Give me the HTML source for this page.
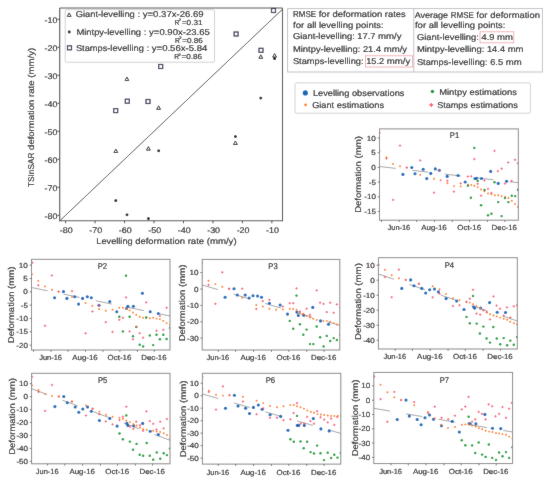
<!DOCTYPE html>
<html><head><meta charset="utf-8"><title>figure</title>
<style>
html,body{margin:0;padding:0;background:#fff;width:550px;height:485px;overflow:hidden}
svg{display:block}
#w{width:550px;height:485px}
text{font-family:"Liberation Sans",sans-serif;text-rendering:geometricPrecision;stroke:#111;stroke-width:0.15px;paint-order:stroke}
</style></head>
<body>
<div id="w">
<svg width="550" height="485" viewBox="0 0 550 485">
<filter id="soft" x="0" y="0" width="550" height="485" filterUnits="userSpaceOnUse"><feConvolveMatrix order="3" kernelMatrix="1 2 1 2 36 2 1 2 1" divisor="48" edgeMode="duplicate"/></filter>
<g filter="url(#soft)">
<rect width="550" height="485" fill="#fff"/>
<line x1="59.70" y1="220.91" x2="282.50" y2="9.22" stroke="#222" stroke-width="0.8"/>
<line x1="59.70" y1="8.00" x2="59.70" y2="221.30" stroke="#444" stroke-width="1.1"/>
<line x1="282.50" y1="8.00" x2="282.50" y2="221.30" stroke="#444" stroke-width="1.1"/>
<line x1="59.70" y1="8.00" x2="282.50" y2="8.00" stroke="#555" stroke-width="1.0"/>
<line x1="59.70" y1="220.80" x2="282.50" y2="220.80" stroke="#555" stroke-width="1.1"/>
<line x1="57.50" y1="19.30" x2="59.70" y2="19.30" stroke="#333" stroke-width="0.9"/>
<text x="44.50" y="22.75" font-size="8.26" textLength="12.90" lengthAdjust="spacingAndGlyphs" fill="#111">-10</text>
<line x1="57.50" y1="47.30" x2="59.70" y2="47.30" stroke="#333" stroke-width="0.9"/>
<text x="44.50" y="50.75" font-size="8.26" textLength="12.90" lengthAdjust="spacingAndGlyphs" fill="#111">-20</text>
<line x1="57.50" y1="75.30" x2="59.70" y2="75.30" stroke="#333" stroke-width="0.9"/>
<text x="44.50" y="78.75" font-size="8.26" textLength="12.90" lengthAdjust="spacingAndGlyphs" fill="#111">-30</text>
<line x1="57.50" y1="103.30" x2="59.70" y2="103.30" stroke="#333" stroke-width="0.9"/>
<text x="44.50" y="106.75" font-size="8.26" textLength="12.90" lengthAdjust="spacingAndGlyphs" fill="#111">-40</text>
<line x1="57.50" y1="131.30" x2="59.70" y2="131.30" stroke="#333" stroke-width="0.9"/>
<text x="44.50" y="134.75" font-size="8.26" textLength="12.90" lengthAdjust="spacingAndGlyphs" fill="#111">-50</text>
<line x1="57.50" y1="159.30" x2="59.70" y2="159.30" stroke="#333" stroke-width="0.9"/>
<text x="44.50" y="162.75" font-size="8.26" textLength="12.90" lengthAdjust="spacingAndGlyphs" fill="#111">-60</text>
<line x1="57.50" y1="187.30" x2="59.70" y2="187.30" stroke="#333" stroke-width="0.9"/>
<text x="44.50" y="190.75" font-size="8.26" textLength="12.90" lengthAdjust="spacingAndGlyphs" fill="#111">-70</text>
<line x1="57.50" y1="215.30" x2="59.70" y2="215.30" stroke="#333" stroke-width="0.9"/>
<text x="44.50" y="218.75" font-size="8.26" textLength="12.90" lengthAdjust="spacingAndGlyphs" fill="#111">-80</text>
<line x1="65.60" y1="220.80" x2="65.60" y2="223.30" stroke="#333" stroke-width="0.9"/>
<text x="59.85" y="232.80" font-size="8.26" textLength="12.90" lengthAdjust="spacingAndGlyphs" fill="#111">-80</text>
<line x1="95.07" y1="220.80" x2="95.07" y2="223.30" stroke="#333" stroke-width="0.9"/>
<text x="89.32" y="232.80" font-size="8.26" textLength="12.90" lengthAdjust="spacingAndGlyphs" fill="#111">-70</text>
<line x1="124.54" y1="220.80" x2="124.54" y2="223.30" stroke="#333" stroke-width="0.9"/>
<text x="118.79" y="232.80" font-size="8.26" textLength="12.90" lengthAdjust="spacingAndGlyphs" fill="#111">-60</text>
<line x1="154.01" y1="220.80" x2="154.01" y2="223.30" stroke="#333" stroke-width="0.9"/>
<text x="148.26" y="232.80" font-size="8.26" textLength="12.90" lengthAdjust="spacingAndGlyphs" fill="#111">-50</text>
<line x1="183.48" y1="220.80" x2="183.48" y2="223.30" stroke="#333" stroke-width="0.9"/>
<text x="177.73" y="232.80" font-size="8.26" textLength="12.90" lengthAdjust="spacingAndGlyphs" fill="#111">-40</text>
<line x1="212.95" y1="220.80" x2="212.95" y2="223.30" stroke="#333" stroke-width="0.9"/>
<text x="207.20" y="232.80" font-size="8.26" textLength="12.90" lengthAdjust="spacingAndGlyphs" fill="#111">-30</text>
<line x1="242.42" y1="220.80" x2="242.42" y2="223.30" stroke="#333" stroke-width="0.9"/>
<text x="236.67" y="232.80" font-size="8.26" textLength="12.90" lengthAdjust="spacingAndGlyphs" fill="#111">-20</text>
<line x1="271.89" y1="220.80" x2="271.89" y2="223.30" stroke="#333" stroke-width="0.9"/>
<text x="266.14" y="232.80" font-size="8.26" textLength="12.90" lengthAdjust="spacingAndGlyphs" fill="#111">-10</text>
<text x="96.30" y="244.00" font-size="8.52" textLength="36.38" lengthAdjust="spacingAndGlyphs" fill="#111">Levelling</text><text x="135.27" y="244.00" font-size="8.52" textLength="49.80" lengthAdjust="spacingAndGlyphs" fill="#111">deformation</text><text x="187.66" y="244.00" font-size="8.52" textLength="16.56" lengthAdjust="spacingAndGlyphs" fill="#111">rate</text><text x="206.80" y="244.00" font-size="8.52" textLength="29.81" lengthAdjust="spacingAndGlyphs" fill="#111">(mm/y)</text>
<g transform="rotate(-90 34.00 117.40)"><text x="-35.66" y="117.40" font-size="8.52" textLength="34.56" lengthAdjust="spacingAndGlyphs" fill="#111">TSInSAR</text><text x="1.51" y="117.40" font-size="8.52" textLength="50.19" lengthAdjust="spacingAndGlyphs" fill="#111">deformation</text><text x="54.32" y="117.40" font-size="8.52" textLength="16.69" lengthAdjust="spacingAndGlyphs" fill="#111">rate</text><text x="73.61" y="117.40" font-size="8.52" textLength="30.05" lengthAdjust="spacingAndGlyphs" fill="#111">(mm/y)</text></g>
<rect x="65.2" y="9.7" width="149.3" height="52.5" rx="1.2" fill="#fff" fill-opacity="0.85" stroke="#cccccc" stroke-width="0.9"/>
<path d="M126.90,77.00 L128.80,80.52 L125.00,80.52 Z" fill="#fff" stroke="#222" stroke-width="1.0"/>
<path d="M158.60,105.80 L160.50,109.31 L156.70,109.31 Z" fill="#fff" stroke="#222" stroke-width="1.0"/>
<path d="M115.80,149.00 L117.70,152.52 L113.90,152.52 Z" fill="#fff" stroke="#222" stroke-width="1.0"/>
<path d="M148.40,146.60 L150.30,150.12 L146.50,150.12 Z" fill="#fff" stroke="#222" stroke-width="1.0"/>
<path d="M260.80,54.80 L262.70,58.32 L258.90,58.32 Z" fill="#fff" stroke="#222" stroke-width="1.0"/>
<path d="M274.60,53.60 L276.50,57.12 L272.70,57.12 Z" fill="#fff" stroke="#222" stroke-width="1.0"/>
<path d="M235.40,141.00 L237.30,144.52 L233.50,144.52 Z" fill="#fff" stroke="#222" stroke-width="1.0"/>
<circle cx="158.70" cy="150.80" r="1.4" fill="#000"/>
<circle cx="115.80" cy="200.70" r="1.4" fill="#000"/>
<circle cx="127.00" cy="214.80" r="1.4" fill="#000"/>
<circle cx="148.40" cy="218.60" r="1.4" fill="#000"/>
<circle cx="274.60" cy="58.70" r="1.4" fill="#000"/>
<circle cx="260.80" cy="98.10" r="1.4" fill="#000"/>
<circle cx="235.40" cy="136.60" r="1.4" fill="#000"/>
<rect x="158.70" y="64.50" width="4.00" height="4.00" fill="none" stroke="#2a2e4e" stroke-width="1.2"/>
<rect x="125.30" y="99.20" width="4.00" height="4.00" fill="none" stroke="#2a2e4e" stroke-width="1.2"/>
<rect x="146.00" y="99.50" width="4.00" height="4.00" fill="none" stroke="#2a2e4e" stroke-width="1.2"/>
<rect x="113.70" y="108.60" width="4.00" height="4.00" fill="none" stroke="#2a2e4e" stroke-width="1.2"/>
<rect x="271.50" y="8.50" width="4.00" height="4.00" fill="none" stroke="#2a2e4e" stroke-width="1.2"/>
<rect x="234.10" y="32.00" width="4.00" height="4.00" fill="none" stroke="#2a2e4e" stroke-width="1.2"/>
<rect x="259.00" y="48.30" width="4.00" height="4.00" fill="none" stroke="#2a2e4e" stroke-width="1.2"/>
<path d="M69.20,12.90 L71.10,16.41 L67.30,16.41 Z" fill="#fff" stroke="#222" stroke-width="1.0"/>
<circle cx="69.20" cy="32.00" r="1.4" fill="#000"/>
<rect x="67.50" y="45.80" width="4.00" height="4.00" fill="none" stroke="#2a2e4e" stroke-width="1.2"/>
<text x="75.70" y="16.90" font-size="8.52" textLength="59.12" lengthAdjust="spacingAndGlyphs" fill="#111">Giant-levelling</text><text x="137.41" y="16.90" font-size="8.52" textLength="2.75" lengthAdjust="spacingAndGlyphs" fill="#111">:</text><text x="142.75" y="16.90" font-size="8.52" textLength="60.90" lengthAdjust="spacingAndGlyphs" fill="#111">y=0.37x-26.69</text>
<text x="76.40" y="34.70" font-size="8.52" textLength="64.70" lengthAdjust="spacingAndGlyphs" fill="#111">Mintpy-levelling</text><text x="143.69" y="34.70" font-size="8.52" textLength="2.75" lengthAdjust="spacingAndGlyphs" fill="#111">:</text><text x="149.03" y="34.70" font-size="8.52" textLength="60.90" lengthAdjust="spacingAndGlyphs" fill="#111">y=0.90x-23.65</text>
<text x="75.90" y="51.00" font-size="8.52" textLength="67.91" lengthAdjust="spacingAndGlyphs" fill="#111">Stamps-levelling</text><text x="146.40" y="51.00" font-size="8.52" textLength="2.75" lengthAdjust="spacingAndGlyphs" fill="#111">:</text><text x="151.74" y="51.00" font-size="8.52" textLength="55.71" lengthAdjust="spacingAndGlyphs" fill="#111">y=0.56x-5.84</text>
<text x="174.60" y="25.00" font-size="7.31" textLength="4.86" lengthAdjust="spacingAndGlyphs" fill="#111">R</text>
<text x="178.86" y="21.40" font-size="3.76" textLength="2.29" lengthAdjust="spacingAndGlyphs" fill="#111">2</text>
<text x="181.86" y="25.00" font-size="7.31" textLength="20.59" lengthAdjust="spacingAndGlyphs" fill="#111">=0.31</text>
<text x="175.00" y="42.60" font-size="7.31" textLength="4.86" lengthAdjust="spacingAndGlyphs" fill="#111">R</text>
<text x="179.26" y="39.00" font-size="3.76" textLength="2.29" lengthAdjust="spacingAndGlyphs" fill="#111">2</text>
<text x="182.26" y="42.60" font-size="7.31" textLength="20.59" lengthAdjust="spacingAndGlyphs" fill="#111">=0.86</text>
<text x="174.30" y="59.20" font-size="7.31" textLength="4.86" lengthAdjust="spacingAndGlyphs" fill="#111">R</text>
<text x="178.56" y="55.60" font-size="3.76" textLength="2.29" lengthAdjust="spacingAndGlyphs" fill="#111">2</text>
<text x="181.56" y="59.20" font-size="7.31" textLength="20.59" lengthAdjust="spacingAndGlyphs" fill="#111">=0.86</text>
<rect x="287.6" y="8.6" width="254.8" height="63.4" fill="#fff" stroke="#bfb8c4" stroke-width="0.9"/>
<line x1="413.80" y1="8.60" x2="413.80" y2="72.00" stroke="#bfb8c4" stroke-width="0.9"/>
<text x="293.10" y="17.40" font-size="8.52" textLength="23.02" lengthAdjust="spacingAndGlyphs" fill="#111">RMSE</text><text x="318.71" y="17.40" font-size="8.52" textLength="11.21" lengthAdjust="spacingAndGlyphs" fill="#111">for</text><text x="332.51" y="17.40" font-size="8.52" textLength="49.80" lengthAdjust="spacingAndGlyphs" fill="#111">deformation</text><text x="384.89" y="17.40" font-size="8.52" textLength="20.80" lengthAdjust="spacingAndGlyphs" fill="#111">rates</text>
<text x="293.10" y="28.10" font-size="8.52" textLength="11.21" lengthAdjust="spacingAndGlyphs" fill="#111">for</text><text x="306.90" y="28.10" font-size="8.52" textLength="9.52" lengthAdjust="spacingAndGlyphs" fill="#111">all</text><text x="319.01" y="28.10" font-size="8.52" textLength="34.25" lengthAdjust="spacingAndGlyphs" fill="#111">levelling</text><text x="355.85" y="28.10" font-size="8.52" textLength="27.78" lengthAdjust="spacingAndGlyphs" fill="#111">points:</text>
<text x="292.90" y="39.30" font-size="8.52" textLength="61.87" lengthAdjust="spacingAndGlyphs" fill="#111">Giant-levelling:</text><text x="357.36" y="39.30" font-size="8.52" textLength="18.15" lengthAdjust="spacingAndGlyphs" fill="#111">17.7</text><text x="378.10" y="39.30" font-size="8.52" textLength="23.45" lengthAdjust="spacingAndGlyphs" fill="#111">mm/y</text>
<text x="292.90" y="51.60" font-size="8.52" textLength="67.45" lengthAdjust="spacingAndGlyphs" fill="#111">Mintpy-levelling:</text><text x="362.94" y="51.60" font-size="8.52" textLength="18.15" lengthAdjust="spacingAndGlyphs" fill="#111">21.4</text><text x="383.67" y="51.60" font-size="8.52" textLength="23.45" lengthAdjust="spacingAndGlyphs" fill="#111">mm/y</text>
<text x="292.90" y="63.80" font-size="8.52" textLength="70.66" lengthAdjust="spacingAndGlyphs" fill="#111">Stamps-levelling:</text><text x="366.15" y="63.80" font-size="8.52" textLength="18.15" lengthAdjust="spacingAndGlyphs" fill="#111">15.2</text><text x="386.89" y="63.80" font-size="8.52" textLength="23.45" lengthAdjust="spacingAndGlyphs" fill="#111">mm/y</text>
<rect x="365.5" y="55.8" width="47.1" height="11.2" fill="none" stroke="#f2a0a8" stroke-width="0.8"/>
<text x="414.70" y="17.80" font-size="8.52" textLength="33.47" lengthAdjust="spacingAndGlyphs" fill="#111">Average</text><text x="450.76" y="17.80" font-size="8.52" textLength="23.02" lengthAdjust="spacingAndGlyphs" fill="#111">RMSE</text><text x="476.37" y="17.80" font-size="8.52" textLength="11.21" lengthAdjust="spacingAndGlyphs" fill="#111">for</text><text x="490.16" y="17.80" font-size="8.52" textLength="49.80" lengthAdjust="spacingAndGlyphs" fill="#111">deformation</text>
<text x="414.90" y="28.10" font-size="8.52" textLength="11.21" lengthAdjust="spacingAndGlyphs" fill="#111">for</text><text x="428.70" y="28.10" font-size="8.52" textLength="9.52" lengthAdjust="spacingAndGlyphs" fill="#111">all</text><text x="440.81" y="28.10" font-size="8.52" textLength="34.25" lengthAdjust="spacingAndGlyphs" fill="#111">levelling</text><text x="477.65" y="28.10" font-size="8.52" textLength="27.78" lengthAdjust="spacingAndGlyphs" fill="#111">points:</text>
<text x="417.00" y="40.40" font-size="8.52" textLength="61.87" lengthAdjust="spacingAndGlyphs" fill="#111">Giant-levelling:</text><text x="481.46" y="40.40" font-size="8.52" textLength="12.96" lengthAdjust="spacingAndGlyphs" fill="#111">4.9</text><text x="497.01" y="40.40" font-size="8.52" textLength="15.88" lengthAdjust="spacingAndGlyphs" fill="#111">mm</text>
<text x="416.90" y="52.40" font-size="8.52" textLength="67.45" lengthAdjust="spacingAndGlyphs" fill="#111">Mintpy-levelling:</text><text x="486.94" y="52.40" font-size="8.52" textLength="18.15" lengthAdjust="spacingAndGlyphs" fill="#111">14.4</text><text x="507.67" y="52.40" font-size="8.52" textLength="15.88" lengthAdjust="spacingAndGlyphs" fill="#111">mm</text>
<text x="416.90" y="64.70" font-size="8.52" textLength="70.66" lengthAdjust="spacingAndGlyphs" fill="#111">Stamps-levelling:</text><text x="490.15" y="64.70" font-size="8.52" textLength="12.96" lengthAdjust="spacingAndGlyphs" fill="#111">6.5</text><text x="505.70" y="64.70" font-size="8.52" textLength="15.88" lengthAdjust="spacingAndGlyphs" fill="#111">mm</text>
<rect x="480.0" y="31.8" width="33.8" height="11.0" fill="none" stroke="#f2a0a8" stroke-width="0.8"/>
<rect x="295.0" y="82.9" width="235.4" height="30.3" rx="1.5" fill="#fff" stroke="#cccccc" stroke-width="0.9"/>
<circle cx="305.30" cy="92.90" r="2.6" fill="#0a67b9"/>
<circle cx="305.60" cy="104.80" r="1.35" fill="#ff7505"/>
<circle cx="432.40" cy="91.50" r="1.75" fill="#009a2a"/>
<path d="M429.3,104.9 H433.3 M431.3,102.9 V106.9" stroke="#ff4a4a" stroke-width="1.1"/>
<text x="313.00" y="95.50" font-size="8.52" textLength="36.38" lengthAdjust="spacingAndGlyphs" fill="#111">Levelling</text><text x="351.97" y="95.50" font-size="8.52" textLength="52.45" lengthAdjust="spacingAndGlyphs" fill="#111">observations</text>
<text x="312.20" y="107.80" font-size="8.52" textLength="21.94" lengthAdjust="spacingAndGlyphs" fill="#111">Giant</text><text x="336.73" y="107.80" font-size="8.52" textLength="47.51" lengthAdjust="spacingAndGlyphs" fill="#111">estimations</text>
<text x="439.20" y="95.00" font-size="8.52" textLength="27.65" lengthAdjust="spacingAndGlyphs" fill="#111">Mintpy</text><text x="469.44" y="95.00" font-size="8.52" textLength="47.51" lengthAdjust="spacingAndGlyphs" fill="#111">estimations</text>
<text x="437.20" y="108.00" font-size="8.52" textLength="30.72" lengthAdjust="spacingAndGlyphs" fill="#111">Stamps</text><text x="470.51" y="108.00" font-size="8.52" textLength="47.51" lengthAdjust="spacingAndGlyphs" fill="#111">estimations</text>
<clipPath id="cP1"><rect x="379.5" y="128.9" width="138.80" height="91.30"/></clipPath>
<line x1="379.5" y1="166.5" x2="518.3" y2="182.7" stroke="#a0a0a0" stroke-width="0.95" stroke-dasharray="16.4 16.4"/>
<g clip-path="url(#cP1)">
<circle cx="402.9" cy="174.4" r="1.55" fill="#0a67b9"/>
<circle cx="411.8" cy="167.5" r="1.55" fill="#0a67b9"/>
<circle cx="415" cy="173.8" r="1.55" fill="#0a67b9"/>
<circle cx="423.2" cy="169.2" r="1.55" fill="#0a67b9"/>
<circle cx="426.8" cy="178.6" r="1.55" fill="#0a67b9"/>
<circle cx="430.8" cy="173.4" r="1.55" fill="#0a67b9"/>
<circle cx="435.3" cy="168.9" r="1.55" fill="#0a67b9"/>
<circle cx="439.3" cy="170.2" r="1.55" fill="#0a67b9"/>
<circle cx="447.2" cy="176.4" r="1.55" fill="#0a67b9"/>
<circle cx="458" cy="175.5" r="1.55" fill="#0a67b9"/>
<circle cx="465.2" cy="182" r="1.55" fill="#0a67b9"/>
<circle cx="475" cy="178.6" r="1.55" fill="#0a67b9"/>
<circle cx="476.5" cy="178.2" r="1.55" fill="#0a67b9"/>
<circle cx="481.5" cy="178.5" r="1.55" fill="#0a67b9"/>
<circle cx="490.7" cy="171.4" r="1.55" fill="#0a67b9"/>
<circle cx="498.2" cy="183.4" r="1.55" fill="#0a67b9"/>
<circle cx="506.6" cy="181.2" r="1.55" fill="#0a67b9"/>
<circle cx="379.6" cy="150.9" r="0.95" fill="#ff7505"/>
<circle cx="386.5" cy="157.2" r="0.95" fill="#ff7505"/>
<circle cx="393.1" cy="164" r="0.95" fill="#ff7505"/>
<circle cx="400" cy="166.3" r="0.95" fill="#ff7505"/>
<circle cx="406.8" cy="167.6" r="0.95" fill="#ff7505"/>
<circle cx="420.2" cy="174.7" r="0.95" fill="#ff7505"/>
<circle cx="434" cy="178.7" r="0.95" fill="#ff7505"/>
<circle cx="440.6" cy="180.3" r="0.95" fill="#ff7505"/>
<circle cx="447.4" cy="183.2" r="0.95" fill="#ff7505"/>
<circle cx="453.9" cy="186.1" r="0.95" fill="#ff7505"/>
<circle cx="460.7" cy="186.4" r="0.95" fill="#ff7505"/>
<circle cx="467.9" cy="184.8" r="0.95" fill="#ff7505"/>
<circle cx="471.2" cy="185" r="0.95" fill="#ff7505"/>
<circle cx="474.3" cy="185.7" r="0.95" fill="#ff7505"/>
<circle cx="477.7" cy="187.1" r="0.95" fill="#ff7505"/>
<circle cx="481.1" cy="189.5" r="0.95" fill="#ff7505"/>
<circle cx="484.5" cy="191.2" r="0.95" fill="#ff7505"/>
<circle cx="488" cy="193.4" r="0.95" fill="#ff7505"/>
<circle cx="491.4" cy="194.3" r="0.95" fill="#ff7505"/>
<circle cx="494.8" cy="195.3" r="0.95" fill="#ff7505"/>
<circle cx="498.2" cy="195.3" r="0.95" fill="#ff7505"/>
<circle cx="501.6" cy="196.1" r="0.95" fill="#ff7505"/>
<circle cx="505" cy="197" r="0.95" fill="#ff7505"/>
<circle cx="508.4" cy="198" r="0.95" fill="#ff7505"/>
<circle cx="511.8" cy="200.7" r="0.95" fill="#ff7505"/>
<circle cx="515.2" cy="203.9" r="0.95" fill="#ff7505"/>
<circle cx="518" cy="207" r="0.95" fill="#ff7505"/>
<circle cx="474.3" cy="147.9" r="1.2" fill="#009a2a"/>
<circle cx="467.9" cy="185.7" r="1.2" fill="#009a2a"/>
<circle cx="470.9" cy="197.7" r="1.2" fill="#009a2a"/>
<circle cx="477.7" cy="180.9" r="1.2" fill="#009a2a"/>
<circle cx="481.1" cy="205.2" r="1.2" fill="#009a2a"/>
<circle cx="484.5" cy="190" r="1.2" fill="#009a2a"/>
<circle cx="488" cy="215.2" r="1.2" fill="#009a2a"/>
<circle cx="491.4" cy="213.8" r="1.2" fill="#009a2a"/>
<circle cx="494.5" cy="182.3" r="1.2" fill="#009a2a"/>
<circle cx="498.2" cy="202.1" r="1.2" fill="#009a2a"/>
<circle cx="501.6" cy="216.1" r="1.2" fill="#009a2a"/>
<circle cx="505" cy="198" r="1.2" fill="#009a2a"/>
<circle cx="508.4" cy="202.1" r="1.2" fill="#009a2a"/>
<circle cx="511.8" cy="195.7" r="1.2" fill="#009a2a"/>
<circle cx="515.2" cy="196.1" r="1.2" fill="#009a2a"/>
<circle cx="518" cy="189.8" r="1.2" fill="#009a2a"/>
<path d="M378.40,132.80H380.80M379.60,131.60V134.00" stroke="#f24a66" stroke-width="0.78"/>
<path d="M385.30,158.50H387.70M386.50,157.30V159.70" stroke="#f24a66" stroke-width="0.78"/>
<path d="M391.90,199.90H394.30M393.10,198.70V201.10" stroke="#f24a66" stroke-width="0.78"/>
<path d="M398.80,145.60H401.20M400.00,144.40V146.80" stroke="#f24a66" stroke-width="0.78"/>
<path d="M405.60,167.60H408.00M406.80,166.40V168.80" stroke="#f24a66" stroke-width="0.78"/>
<path d="M419.00,160.40H421.40M420.20,159.20V161.60" stroke="#f24a66" stroke-width="0.78"/>
<path d="M432.80,192.70H435.20M434.00,191.50V193.90" stroke="#f24a66" stroke-width="0.78"/>
<path d="M438.10,170.20H440.50M439.30,169.00V171.40" stroke="#f24a66" stroke-width="0.78"/>
<path d="M446.20,180.70H448.60M447.40,179.50V181.90" stroke="#f24a66" stroke-width="0.78"/>
<path d="M452.70,191.60H455.10M453.90,190.40V192.80" stroke="#f24a66" stroke-width="0.78"/>
<path d="M459.50,183.40H461.90M460.70,182.20V184.60" stroke="#f24a66" stroke-width="0.78"/>
<path d="M466.70,176.60H469.10M467.90,175.40V177.80" stroke="#f24a66" stroke-width="0.78"/>
<path d="M470.00,176.30H472.40M471.20,175.10V177.50" stroke="#f24a66" stroke-width="0.78"/>
<path d="M473.10,159.10H475.50M474.30,157.90V160.30" stroke="#f24a66" stroke-width="0.78"/>
<path d="M476.50,183.80H478.90M477.70,182.60V185.00" stroke="#f24a66" stroke-width="0.78"/>
<path d="M479.90,195.70H482.30M481.10,194.50V196.90" stroke="#f24a66" stroke-width="0.78"/>
<path d="M483.30,180.50H485.70M484.50,179.30V181.70" stroke="#f24a66" stroke-width="0.78"/>
<path d="M486.80,188.90H489.20M488.00,187.70V190.10" stroke="#f24a66" stroke-width="0.78"/>
<path d="M490.20,193.00H492.60M491.40,191.80V194.20" stroke="#f24a66" stroke-width="0.78"/>
<path d="M493.30,150.90H495.70M494.50,149.70V152.10" stroke="#f24a66" stroke-width="0.78"/>
<path d="M496.70,171.10H499.10M497.90,169.90V172.30" stroke="#f24a66" stroke-width="0.78"/>
<path d="M500.40,168.60H502.80M501.60,167.40V169.80" stroke="#f24a66" stroke-width="0.78"/>
<path d="M503.80,183.60H506.20M505.00,182.40V184.80" stroke="#f24a66" stroke-width="0.78"/>
<path d="M507.00,162.50H509.40M508.20,161.30V163.70" stroke="#f24a66" stroke-width="0.78"/>
<path d="M510.40,180.90H512.80M511.60,179.70V182.10" stroke="#f24a66" stroke-width="0.78"/>
<path d="M513.80,159.80H516.20M515.00,158.60V161.00" stroke="#f24a66" stroke-width="0.78"/>
<path d="M516.80,163.20H519.20M518.00,162.00V164.40" stroke="#f24a66" stroke-width="0.78"/>
</g>
<rect x="379.5" y="128.9" width="138.80" height="91.30" fill="none" stroke="#808080" stroke-width="0.95"/>
<line x1="377.70" y1="137.96" x2="379.50" y2="137.96" stroke="#555" stroke-width="0.8"/>
<text x="366.87" y="140.51" font-size="7.42" textLength="9.03" lengthAdjust="spacingAndGlyphs" fill="#111">10</text>
<line x1="377.70" y1="152.68" x2="379.50" y2="152.68" stroke="#555" stroke-width="0.8"/>
<text x="371.38" y="155.23" font-size="7.42" textLength="4.52" lengthAdjust="spacingAndGlyphs" fill="#111">5</text>
<line x1="377.70" y1="167.40" x2="379.50" y2="167.40" stroke="#555" stroke-width="0.8"/>
<text x="371.38" y="169.95" font-size="7.42" textLength="4.52" lengthAdjust="spacingAndGlyphs" fill="#111">0</text>
<line x1="377.70" y1="182.12" x2="379.50" y2="182.12" stroke="#555" stroke-width="0.8"/>
<text x="368.82" y="184.67" font-size="7.42" textLength="7.08" lengthAdjust="spacingAndGlyphs" fill="#111">-5</text>
<line x1="377.70" y1="196.84" x2="379.50" y2="196.84" stroke="#555" stroke-width="0.8"/>
<text x="364.30" y="199.39" font-size="7.42" textLength="11.60" lengthAdjust="spacingAndGlyphs" fill="#111">-10</text>
<line x1="377.70" y1="211.56" x2="379.50" y2="211.56" stroke="#555" stroke-width="0.8"/>
<text x="364.30" y="214.11" font-size="7.42" textLength="11.60" lengthAdjust="spacingAndGlyphs" fill="#111">-15</text>
<line x1="381.44" y1="220.20" x2="381.44" y2="222.00" stroke="#555" stroke-width="0.8"/>
<line x1="399.30" y1="220.20" x2="399.30" y2="222.00" stroke="#555" stroke-width="0.8"/>
<text x="387.55" y="229.60" font-size="7.42" textLength="22.69" lengthAdjust="spacingAndGlyphs" fill="#111">Jun-16</text>
<line x1="416.58" y1="220.20" x2="416.58" y2="222.00" stroke="#555" stroke-width="0.8"/>
<line x1="434.44" y1="220.20" x2="434.44" y2="222.00" stroke="#555" stroke-width="0.8"/>
<text x="421.31" y="229.60" font-size="7.42" textLength="25.46" lengthAdjust="spacingAndGlyphs" fill="#111">Aug-16</text>
<line x1="452.29" y1="220.20" x2="452.29" y2="222.00" stroke="#555" stroke-width="0.8"/>
<line x1="469.57" y1="220.20" x2="469.57" y2="222.00" stroke="#555" stroke-width="0.8"/>
<text x="457.24" y="229.60" font-size="7.42" textLength="23.87" lengthAdjust="spacingAndGlyphs" fill="#111">Oct-16</text>
<line x1="487.43" y1="220.20" x2="487.43" y2="222.00" stroke="#555" stroke-width="0.8"/>
<line x1="504.71" y1="220.20" x2="504.71" y2="222.00" stroke="#555" stroke-width="0.8"/>
<text x="491.64" y="229.60" font-size="7.42" textLength="25.34" lengthAdjust="spacingAndGlyphs" fill="#111">Dec-16</text>
<text x="449.80" y="138.00" font-size="8.36" textLength="9.39" lengthAdjust="spacingAndGlyphs" fill="#111">P1</text>
<g transform="rotate(-90 360.70 174.40)"><text x="322.31" y="174.40" font-size="8.52" textLength="51.61" lengthAdjust="spacingAndGlyphs" fill="#111">Deformation</text><text x="376.54" y="174.40" font-size="8.52" textLength="22.55" lengthAdjust="spacingAndGlyphs" fill="#111">(mm)</text></g>
<clipPath id="cP2"><rect x="31.5" y="259.3" width="138.50" height="90.70"/></clipPath>
<line x1="31.5" y1="287.5" x2="170.0" y2="316.0" stroke="#a0a0a0" stroke-width="0.95" stroke-dasharray="16.4 16.4"/>
<g clip-path="url(#cP2)">
<circle cx="54.6" cy="297.7" r="1.55" fill="#0a67b9"/>
<circle cx="63.5" cy="291.6" r="1.55" fill="#0a67b9"/>
<circle cx="66.9" cy="298.4" r="1.55" fill="#0a67b9"/>
<circle cx="74.8" cy="296.8" r="1.55" fill="#0a67b9"/>
<circle cx="78.6" cy="304.1" r="1.55" fill="#0a67b9"/>
<circle cx="82.6" cy="298.4" r="1.55" fill="#0a67b9"/>
<circle cx="87.3" cy="296.8" r="1.55" fill="#0a67b9"/>
<circle cx="91.3" cy="297.7" r="1.55" fill="#0a67b9"/>
<circle cx="99" cy="305.3" r="1.55" fill="#0a67b9"/>
<circle cx="109.8" cy="301.5" r="1.55" fill="#0a67b9"/>
<circle cx="116.8" cy="311.8" r="1.55" fill="#0a67b9"/>
<circle cx="126.5" cy="308.5" r="1.55" fill="#0a67b9"/>
<circle cx="127.9" cy="306.3" r="1.55" fill="#0a67b9"/>
<circle cx="133.4" cy="306.3" r="1.55" fill="#0a67b9"/>
<circle cx="142.4" cy="293.3" r="1.55" fill="#0a67b9"/>
<circle cx="150.2" cy="311.8" r="1.55" fill="#0a67b9"/>
<circle cx="158.3" cy="313.5" r="1.55" fill="#0a67b9"/>
<circle cx="31.9" cy="274.2" r="0.95" fill="#ff7505"/>
<circle cx="38.3" cy="280.9" r="0.95" fill="#ff7505"/>
<circle cx="45" cy="286.5" r="0.95" fill="#ff7505"/>
<circle cx="51.9" cy="289.8" r="0.95" fill="#ff7505"/>
<circle cx="58.6" cy="291.6" r="0.95" fill="#ff7505"/>
<circle cx="72" cy="297.1" r="0.95" fill="#ff7505"/>
<circle cx="85.6" cy="303" r="0.95" fill="#ff7505"/>
<circle cx="92.4" cy="305.7" r="0.95" fill="#ff7505"/>
<circle cx="99.1" cy="309" r="0.95" fill="#ff7505"/>
<circle cx="105.8" cy="310.8" r="0.95" fill="#ff7505"/>
<circle cx="112.5" cy="309.8" r="0.95" fill="#ff7505"/>
<circle cx="119.3" cy="307.7" r="0.95" fill="#ff7505"/>
<circle cx="122.9" cy="307.7" r="0.95" fill="#ff7505"/>
<circle cx="126.5" cy="308.7" r="0.95" fill="#ff7505"/>
<circle cx="129.6" cy="310.4" r="0.95" fill="#ff7505"/>
<circle cx="133" cy="312.5" r="0.95" fill="#ff7505"/>
<circle cx="136.3" cy="314.8" r="0.95" fill="#ff7505"/>
<circle cx="139.7" cy="316.8" r="0.95" fill="#ff7505"/>
<circle cx="143.1" cy="317.8" r="0.95" fill="#ff7505"/>
<circle cx="146.2" cy="317.8" r="0.95" fill="#ff7505"/>
<circle cx="149.8" cy="318.2" r="0.95" fill="#ff7505"/>
<circle cx="153.2" cy="317.8" r="0.95" fill="#ff7505"/>
<circle cx="156.5" cy="318.6" r="0.95" fill="#ff7505"/>
<circle cx="159.9" cy="319.1" r="0.95" fill="#ff7505"/>
<circle cx="163.3" cy="320.9" r="0.95" fill="#ff7505"/>
<circle cx="166.6" cy="323.1" r="0.95" fill="#ff7505"/>
<circle cx="170" cy="324.6" r="0.95" fill="#ff7505"/>
<circle cx="119.3" cy="316.8" r="1.2" fill="#009a2a"/>
<circle cx="122.9" cy="331.4" r="1.2" fill="#009a2a"/>
<circle cx="126" cy="275.8" r="1.2" fill="#009a2a"/>
<circle cx="129.6" cy="316.8" r="1.2" fill="#009a2a"/>
<circle cx="133" cy="336.3" r="1.2" fill="#009a2a"/>
<circle cx="136.3" cy="326.9" r="1.2" fill="#009a2a"/>
<circle cx="139.7" cy="344.8" r="1.2" fill="#009a2a"/>
<circle cx="143.1" cy="346.4" r="1.2" fill="#009a2a"/>
<circle cx="146.2" cy="317.5" r="1.2" fill="#009a2a"/>
<circle cx="149.8" cy="335.4" r="1.2" fill="#009a2a"/>
<circle cx="153.2" cy="345.1" r="1.2" fill="#009a2a"/>
<circle cx="156.5" cy="334.7" r="1.2" fill="#009a2a"/>
<circle cx="159.9" cy="339.3" r="1.2" fill="#009a2a"/>
<circle cx="163.3" cy="334.7" r="1.2" fill="#009a2a"/>
<circle cx="166.6" cy="339" r="1.2" fill="#009a2a"/>
<circle cx="170" cy="327.9" r="1.2" fill="#009a2a"/>
<path d="M31.10,262.70H33.50M32.30,261.50V263.90" stroke="#f24a66" stroke-width="0.78"/>
<path d="M37.10,285.30H39.50M38.30,284.10V286.50" stroke="#f24a66" stroke-width="0.78"/>
<path d="M43.80,325.80H46.20M45.00,324.60V327.00" stroke="#f24a66" stroke-width="0.78"/>
<path d="M50.70,275.50H53.10M51.90,274.30V276.70" stroke="#f24a66" stroke-width="0.78"/>
<path d="M57.40,291.60H59.80M58.60,290.40V292.80" stroke="#f24a66" stroke-width="0.78"/>
<path d="M70.80,291.10H73.20M72.00,289.90V292.30" stroke="#f24a66" stroke-width="0.78"/>
<path d="M84.40,333.30H86.80M85.60,332.10V334.50" stroke="#f24a66" stroke-width="0.78"/>
<path d="M91.20,311.50H93.60M92.40,310.30V312.70" stroke="#f24a66" stroke-width="0.78"/>
<path d="M97.80,305.30H100.20M99.00,304.10V306.50" stroke="#f24a66" stroke-width="0.78"/>
<path d="M104.60,322.20H107.00M105.80,321.00V323.40" stroke="#f24a66" stroke-width="0.78"/>
<path d="M111.30,331.90H113.70M112.50,330.70V333.10" stroke="#f24a66" stroke-width="0.78"/>
<path d="M118.10,319.80H120.50M119.30,318.60V321.00" stroke="#f24a66" stroke-width="0.78"/>
<path d="M121.70,317.80H124.10M122.90,316.60V319.00" stroke="#f24a66" stroke-width="0.78"/>
<path d="M124.80,297.40H127.20M126.00,296.20V298.60" stroke="#f24a66" stroke-width="0.78"/>
<path d="M128.40,331.40H130.80M129.60,330.20V332.60" stroke="#f24a66" stroke-width="0.78"/>
<path d="M131.80,339.30H134.20M133.00,338.10V340.50" stroke="#f24a66" stroke-width="0.78"/>
<path d="M135.10,326.90H137.50M136.30,325.70V328.10" stroke="#f24a66" stroke-width="0.78"/>
<path d="M138.50,333.20H140.90M139.70,332.00V334.40" stroke="#f24a66" stroke-width="0.78"/>
<path d="M141.90,337.70H144.30M143.10,336.50V338.90" stroke="#f24a66" stroke-width="0.78"/>
<path d="M145.00,302.40H147.40M146.20,301.20V303.60" stroke="#f24a66" stroke-width="0.78"/>
<path d="M155.30,330.70H157.70M156.50,329.50V331.90" stroke="#f24a66" stroke-width="0.78"/>
<path d="M158.70,315.90H161.10M159.90,314.70V317.10" stroke="#f24a66" stroke-width="0.78"/>
<path d="M162.10,329.90H164.50M163.30,328.70V331.10" stroke="#f24a66" stroke-width="0.78"/>
<path d="M165.40,307.80H167.80M166.60,306.60V309.00" stroke="#f24a66" stroke-width="0.78"/>
</g>
<rect x="31.5" y="259.3" width="138.50" height="90.70" fill="none" stroke="#808080" stroke-width="0.95"/>
<line x1="29.70" y1="265.13" x2="31.50" y2="265.13" stroke="#555" stroke-width="0.8"/>
<text x="18.87" y="267.68" font-size="7.42" textLength="9.03" lengthAdjust="spacingAndGlyphs" fill="#111">10</text>
<line x1="29.70" y1="278.47" x2="31.50" y2="278.47" stroke="#555" stroke-width="0.8"/>
<text x="23.38" y="281.02" font-size="7.42" textLength="4.52" lengthAdjust="spacingAndGlyphs" fill="#111">5</text>
<line x1="29.70" y1="291.80" x2="31.50" y2="291.80" stroke="#555" stroke-width="0.8"/>
<text x="23.38" y="294.35" font-size="7.42" textLength="4.52" lengthAdjust="spacingAndGlyphs" fill="#111">0</text>
<line x1="29.70" y1="305.13" x2="31.50" y2="305.13" stroke="#555" stroke-width="0.8"/>
<text x="20.82" y="307.69" font-size="7.42" textLength="7.08" lengthAdjust="spacingAndGlyphs" fill="#111">-5</text>
<line x1="29.70" y1="318.47" x2="31.50" y2="318.47" stroke="#555" stroke-width="0.8"/>
<text x="16.30" y="321.02" font-size="7.42" textLength="11.60" lengthAdjust="spacingAndGlyphs" fill="#111">-10</text>
<line x1="29.70" y1="331.81" x2="31.50" y2="331.81" stroke="#555" stroke-width="0.8"/>
<text x="16.30" y="334.36" font-size="7.42" textLength="11.60" lengthAdjust="spacingAndGlyphs" fill="#111">-15</text>
<line x1="29.70" y1="345.14" x2="31.50" y2="345.14" stroke="#555" stroke-width="0.8"/>
<text x="16.30" y="347.69" font-size="7.42" textLength="11.60" lengthAdjust="spacingAndGlyphs" fill="#111">-20</text>
<line x1="33.50" y1="350.00" x2="33.50" y2="351.80" stroke="#555" stroke-width="0.8"/>
<line x1="51.00" y1="350.00" x2="51.00" y2="351.80" stroke="#555" stroke-width="0.8"/>
<text x="39.25" y="359.50" font-size="7.42" textLength="22.69" lengthAdjust="spacingAndGlyphs" fill="#111">Jun-16</text>
<line x1="67.94" y1="350.00" x2="67.94" y2="351.80" stroke="#555" stroke-width="0.8"/>
<line x1="85.43" y1="350.00" x2="85.43" y2="351.80" stroke="#555" stroke-width="0.8"/>
<text x="72.30" y="359.50" font-size="7.42" textLength="25.46" lengthAdjust="spacingAndGlyphs" fill="#111">Aug-16</text>
<line x1="102.93" y1="350.00" x2="102.93" y2="351.80" stroke="#555" stroke-width="0.8"/>
<line x1="119.87" y1="350.00" x2="119.87" y2="351.80" stroke="#555" stroke-width="0.8"/>
<text x="107.53" y="359.50" font-size="7.42" textLength="23.87" lengthAdjust="spacingAndGlyphs" fill="#111">Oct-16</text>
<line x1="137.37" y1="350.00" x2="137.37" y2="351.80" stroke="#555" stroke-width="0.8"/>
<line x1="154.30" y1="350.00" x2="154.30" y2="351.80" stroke="#555" stroke-width="0.8"/>
<text x="141.24" y="359.50" font-size="7.42" textLength="25.34" lengthAdjust="spacingAndGlyphs" fill="#111">Dec-16</text>
<text x="97.70" y="268.70" font-size="8.36" textLength="9.39" lengthAdjust="spacingAndGlyphs" fill="#111">P2</text>
<g transform="rotate(-90 14.20 304.80)"><text x="-24.19" y="304.80" font-size="8.52" textLength="51.61" lengthAdjust="spacingAndGlyphs" fill="#111">Deformation</text><text x="30.04" y="304.80" font-size="8.52" textLength="22.55" lengthAdjust="spacingAndGlyphs" fill="#111">(mm)</text></g>
<clipPath id="cP3"><rect x="202.2" y="259.4" width="137.60" height="90.60"/></clipPath>
<line x1="202.2" y1="285.0" x2="339.8" y2="325.4" stroke="#a0a0a0" stroke-width="0.95" stroke-dasharray="16.4 16.4"/>
<g clip-path="url(#cP3)">
<circle cx="225.1" cy="297.2" r="1.55" fill="#0a67b9"/>
<circle cx="234" cy="288.8" r="1.55" fill="#0a67b9"/>
<circle cx="237.3" cy="295" r="1.55" fill="#0a67b9"/>
<circle cx="245.2" cy="295" r="1.55" fill="#0a67b9"/>
<circle cx="249.1" cy="298" r="1.55" fill="#0a67b9"/>
<circle cx="253" cy="295.7" r="1.55" fill="#0a67b9"/>
<circle cx="257.6" cy="296" r="1.55" fill="#0a67b9"/>
<circle cx="261.5" cy="297.3" r="1.55" fill="#0a67b9"/>
<circle cx="269.4" cy="303.3" r="1.55" fill="#0a67b9"/>
<circle cx="280.1" cy="305" r="1.55" fill="#0a67b9"/>
<circle cx="287.5" cy="314.1" r="1.55" fill="#0a67b9"/>
<circle cx="296.9" cy="312.1" r="1.55" fill="#0a67b9"/>
<circle cx="298.3" cy="315.5" r="1.55" fill="#0a67b9"/>
<circle cx="303.7" cy="315.2" r="1.55" fill="#0a67b9"/>
<circle cx="312.8" cy="307.4" r="1.55" fill="#0a67b9"/>
<circle cx="320.5" cy="320.9" r="1.55" fill="#0a67b9"/>
<circle cx="328.5" cy="324.2" r="1.55" fill="#0a67b9"/>
<circle cx="202" cy="276.9" r="0.95" fill="#ff7505"/>
<circle cx="208.5" cy="280.8" r="0.95" fill="#ff7505"/>
<circle cx="215.4" cy="284.1" r="0.95" fill="#ff7505"/>
<circle cx="222.3" cy="286.7" r="0.95" fill="#ff7505"/>
<circle cx="229.1" cy="288.8" r="0.95" fill="#ff7505"/>
<circle cx="242.2" cy="297.8" r="0.95" fill="#ff7505"/>
<circle cx="256.3" cy="305" r="0.95" fill="#ff7505"/>
<circle cx="262.8" cy="306.5" r="0.95" fill="#ff7505"/>
<circle cx="269.4" cy="308.7" r="0.95" fill="#ff7505"/>
<circle cx="276.1" cy="309.7" r="0.95" fill="#ff7505"/>
<circle cx="282.8" cy="309.4" r="0.95" fill="#ff7505"/>
<circle cx="289.8" cy="308.7" r="0.95" fill="#ff7505"/>
<circle cx="293.2" cy="309" r="0.95" fill="#ff7505"/>
<circle cx="296.5" cy="309.7" r="0.95" fill="#ff7505"/>
<circle cx="299.9" cy="312.8" r="0.95" fill="#ff7505"/>
<circle cx="303.3" cy="314.1" r="0.95" fill="#ff7505"/>
<circle cx="306.6" cy="315.9" r="0.95" fill="#ff7505"/>
<circle cx="310" cy="317.5" r="0.95" fill="#ff7505"/>
<circle cx="313.3" cy="318.8" r="0.95" fill="#ff7505"/>
<circle cx="316.7" cy="319.9" r="0.95" fill="#ff7505"/>
<circle cx="323.4" cy="320.9" r="0.95" fill="#ff7505"/>
<circle cx="326.8" cy="321.1" r="0.95" fill="#ff7505"/>
<circle cx="330.2" cy="321.8" r="0.95" fill="#ff7505"/>
<circle cx="333.7" cy="323.1" r="0.95" fill="#ff7505"/>
<circle cx="336.9" cy="324.5" r="0.95" fill="#ff7505"/>
<circle cx="340.3" cy="325.3" r="0.95" fill="#ff7505"/>
<circle cx="289.8" cy="320.9" r="1.2" fill="#009a2a"/>
<circle cx="293.2" cy="328.7" r="1.2" fill="#009a2a"/>
<circle cx="296.5" cy="295.6" r="1.2" fill="#009a2a"/>
<circle cx="299.9" cy="324.2" r="1.2" fill="#009a2a"/>
<circle cx="303.3" cy="334.7" r="1.2" fill="#009a2a"/>
<circle cx="306.6" cy="329.6" r="1.2" fill="#009a2a"/>
<circle cx="310" cy="344.1" r="1.2" fill="#009a2a"/>
<circle cx="313.3" cy="344.1" r="1.2" fill="#009a2a"/>
<circle cx="316.7" cy="326.5" r="1.2" fill="#009a2a"/>
<circle cx="320.1" cy="337.3" r="1.2" fill="#009a2a"/>
<circle cx="323.6" cy="346.4" r="1.2" fill="#009a2a"/>
<circle cx="326.8" cy="335.9" r="1.2" fill="#009a2a"/>
<circle cx="330.2" cy="341" r="1.2" fill="#009a2a"/>
<circle cx="333.7" cy="338.1" r="1.2" fill="#009a2a"/>
<circle cx="336.9" cy="340" r="1.2" fill="#009a2a"/>
<circle cx="340.3" cy="334.7" r="1.2" fill="#009a2a"/>
<path d="M200.80,262.90H203.20M202.00,261.70V264.10" stroke="#f24a66" stroke-width="0.78"/>
<path d="M207.30,284.90H209.70M208.50,283.70V286.10" stroke="#f24a66" stroke-width="0.78"/>
<path d="M214.20,303.80H216.60M215.40,302.60V305.00" stroke="#f24a66" stroke-width="0.78"/>
<path d="M221.10,272.30H223.50M222.30,271.10V273.50" stroke="#f24a66" stroke-width="0.78"/>
<path d="M227.90,288.80H230.30M229.10,287.60V290.00" stroke="#f24a66" stroke-width="0.78"/>
<path d="M241.00,288.70H243.40M242.20,287.50V289.90" stroke="#f24a66" stroke-width="0.78"/>
<path d="M255.10,308.90H257.50M256.30,307.70V310.10" stroke="#f24a66" stroke-width="0.78"/>
<path d="M261.60,301.10H264.00M262.80,299.90V302.30" stroke="#f24a66" stroke-width="0.78"/>
<path d="M268.20,299.80H270.60M269.40,298.60V301.00" stroke="#f24a66" stroke-width="0.78"/>
<path d="M281.60,306.50H284.00M282.80,305.30V307.70" stroke="#f24a66" stroke-width="0.78"/>
<path d="M288.60,303.20H291.00M289.80,302.00V304.40" stroke="#f24a66" stroke-width="0.78"/>
<path d="M292.00,303.20H294.40M293.20,302.00V304.40" stroke="#f24a66" stroke-width="0.78"/>
<path d="M295.30,288.40H297.70M296.50,287.20V289.60" stroke="#f24a66" stroke-width="0.78"/>
<path d="M298.70,311.40H301.10M299.90,310.20V312.60" stroke="#f24a66" stroke-width="0.78"/>
<path d="M302.10,314.10H304.50M303.30,312.90V315.30" stroke="#f24a66" stroke-width="0.78"/>
<path d="M305.40,308.70H307.80M306.60,307.50V309.90" stroke="#f24a66" stroke-width="0.78"/>
<path d="M308.80,314.80H311.20M310.00,313.60V316.00" stroke="#f24a66" stroke-width="0.78"/>
<path d="M315.50,290.40H317.90M316.70,289.20V291.60" stroke="#f24a66" stroke-width="0.78"/>
<path d="M318.90,302.70H321.30M320.10,301.50V303.90" stroke="#f24a66" stroke-width="0.78"/>
<path d="M322.40,303.90H324.80M323.60,302.70V305.10" stroke="#f24a66" stroke-width="0.78"/>
<path d="M325.60,312.10H328.00M326.80,310.90V313.30" stroke="#f24a66" stroke-width="0.78"/>
<path d="M329.00,302.70H331.40M330.20,301.50V303.90" stroke="#f24a66" stroke-width="0.78"/>
<path d="M332.50,312.80H334.90M333.70,311.60V314.00" stroke="#f24a66" stroke-width="0.78"/>
<path d="M335.70,304.40H338.10M336.90,303.20V305.60" stroke="#f24a66" stroke-width="0.78"/>
<path d="M339.10,307.80H341.50M340.30,306.60V309.00" stroke="#f24a66" stroke-width="0.78"/>
</g>
<rect x="202.2" y="259.4" width="137.60" height="90.60" fill="none" stroke="#808080" stroke-width="0.95"/>
<line x1="200.40" y1="272.62" x2="202.20" y2="272.62" stroke="#555" stroke-width="0.8"/>
<text x="189.57" y="275.18" font-size="7.42" textLength="9.03" lengthAdjust="spacingAndGlyphs" fill="#111">10</text>
<line x1="200.40" y1="289.00" x2="202.20" y2="289.00" stroke="#555" stroke-width="0.8"/>
<text x="194.08" y="291.55" font-size="7.42" textLength="4.52" lengthAdjust="spacingAndGlyphs" fill="#111">0</text>
<line x1="200.40" y1="305.38" x2="202.20" y2="305.38" stroke="#555" stroke-width="0.8"/>
<text x="187.00" y="307.93" font-size="7.42" textLength="11.60" lengthAdjust="spacingAndGlyphs" fill="#111">-10</text>
<line x1="200.40" y1="321.75" x2="202.20" y2="321.75" stroke="#555" stroke-width="0.8"/>
<text x="187.00" y="324.30" font-size="7.42" textLength="11.60" lengthAdjust="spacingAndGlyphs" fill="#111">-20</text>
<line x1="200.40" y1="338.12" x2="202.20" y2="338.12" stroke="#555" stroke-width="0.8"/>
<text x="187.00" y="340.68" font-size="7.42" textLength="11.60" lengthAdjust="spacingAndGlyphs" fill="#111">-30</text>
<line x1="218.30" y1="350.00" x2="218.30" y2="351.80" stroke="#555" stroke-width="0.8"/>
<text x="206.55" y="359.50" font-size="7.42" textLength="22.69" lengthAdjust="spacingAndGlyphs" fill="#111">Jun-16</text>
<line x1="235.64" y1="350.00" x2="235.64" y2="351.80" stroke="#555" stroke-width="0.8"/>
<line x1="253.56" y1="350.00" x2="253.56" y2="351.80" stroke="#555" stroke-width="0.8"/>
<text x="240.43" y="359.50" font-size="7.42" textLength="25.46" lengthAdjust="spacingAndGlyphs" fill="#111">Aug-16</text>
<line x1="271.48" y1="350.00" x2="271.48" y2="351.80" stroke="#555" stroke-width="0.8"/>
<line x1="288.82" y1="350.00" x2="288.82" y2="351.80" stroke="#555" stroke-width="0.8"/>
<text x="276.48" y="359.50" font-size="7.42" textLength="23.87" lengthAdjust="spacingAndGlyphs" fill="#111">Oct-16</text>
<line x1="306.73" y1="350.00" x2="306.73" y2="351.80" stroke="#555" stroke-width="0.8"/>
<line x1="324.07" y1="350.00" x2="324.07" y2="351.80" stroke="#555" stroke-width="0.8"/>
<text x="311.01" y="359.50" font-size="7.42" textLength="25.34" lengthAdjust="spacingAndGlyphs" fill="#111">Dec-16</text>
<text x="268.30" y="268.70" font-size="8.36" textLength="9.39" lengthAdjust="spacingAndGlyphs" fill="#111">P3</text>
<g transform="rotate(-90 185.20 302.90)"><text x="146.81" y="302.90" font-size="8.52" textLength="51.61" lengthAdjust="spacingAndGlyphs" fill="#111">Deformation</text><text x="201.04" y="302.90" font-size="8.52" textLength="22.55" lengthAdjust="spacingAndGlyphs" fill="#111">(mm)</text></g>
<clipPath id="cP4"><rect x="378.4" y="257.7" width="138.90" height="91.30"/></clipPath>
<line x1="378.4" y1="274.0" x2="517.3" y2="321.0" stroke="#a0a0a0" stroke-width="0.95" stroke-dasharray="16.4 16.4"/>
<g clip-path="url(#cP4)">
<circle cx="401.8" cy="288.4" r="1.55" fill="#0a67b9"/>
<circle cx="410.7" cy="279.9" r="1.55" fill="#0a67b9"/>
<circle cx="414" cy="285.8" r="1.55" fill="#0a67b9"/>
<circle cx="421.8" cy="288.4" r="1.55" fill="#0a67b9"/>
<circle cx="425.7" cy="293" r="1.55" fill="#0a67b9"/>
<circle cx="429.7" cy="289.7" r="1.55" fill="#0a67b9"/>
<circle cx="434.5" cy="289" r="1.55" fill="#0a67b9"/>
<circle cx="438.4" cy="291.9" r="1.55" fill="#0a67b9"/>
<circle cx="446.1" cy="298.6" r="1.55" fill="#0a67b9"/>
<circle cx="456.7" cy="301" r="1.55" fill="#0a67b9"/>
<circle cx="464" cy="309.5" r="1.55" fill="#0a67b9"/>
<circle cx="473.7" cy="307" r="1.55" fill="#0a67b9"/>
<circle cx="474.7" cy="308.1" r="1.55" fill="#0a67b9"/>
<circle cx="480.6" cy="308.1" r="1.55" fill="#0a67b9"/>
<circle cx="489.6" cy="302.6" r="1.55" fill="#0a67b9"/>
<circle cx="497.2" cy="312.2" r="1.55" fill="#0a67b9"/>
<circle cx="505.5" cy="312.5" r="1.55" fill="#0a67b9"/>
<circle cx="378.4" cy="264.8" r="0.95" fill="#ff7505"/>
<circle cx="384.9" cy="269.8" r="0.95" fill="#ff7505"/>
<circle cx="391.7" cy="275.3" r="0.95" fill="#ff7505"/>
<circle cx="398.9" cy="278.3" r="0.95" fill="#ff7505"/>
<circle cx="405.8" cy="279.9" r="0.95" fill="#ff7505"/>
<circle cx="418.9" cy="283.8" r="0.95" fill="#ff7505"/>
<circle cx="432.6" cy="286.2" r="0.95" fill="#ff7505"/>
<circle cx="439.5" cy="289.3" r="0.95" fill="#ff7505"/>
<circle cx="446" cy="293.9" r="0.95" fill="#ff7505"/>
<circle cx="453" cy="298.2" r="0.95" fill="#ff7505"/>
<circle cx="459.5" cy="300.2" r="0.95" fill="#ff7505"/>
<circle cx="466.5" cy="301.9" r="0.95" fill="#ff7505"/>
<circle cx="469.8" cy="302.6" r="0.95" fill="#ff7505"/>
<circle cx="473" cy="304.1" r="0.95" fill="#ff7505"/>
<circle cx="476.5" cy="305.9" r="0.95" fill="#ff7505"/>
<circle cx="480.2" cy="308.4" r="0.95" fill="#ff7505"/>
<circle cx="483.4" cy="310.2" r="0.95" fill="#ff7505"/>
<circle cx="486.8" cy="312.2" r="0.95" fill="#ff7505"/>
<circle cx="490" cy="314.2" r="0.95" fill="#ff7505"/>
<circle cx="493.5" cy="315.5" r="0.95" fill="#ff7505"/>
<circle cx="496.8" cy="316.4" r="0.95" fill="#ff7505"/>
<circle cx="500.2" cy="317.6" r="0.95" fill="#ff7505"/>
<circle cx="503.7" cy="318.7" r="0.95" fill="#ff7505"/>
<circle cx="507.1" cy="319.8" r="0.95" fill="#ff7505"/>
<circle cx="510.3" cy="321.8" r="0.95" fill="#ff7505"/>
<circle cx="513.8" cy="323.3" r="0.95" fill="#ff7505"/>
<circle cx="517" cy="324.3" r="0.95" fill="#ff7505"/>
<circle cx="466.5" cy="316.9" r="1.2" fill="#009a2a"/>
<circle cx="469.8" cy="323.3" r="1.2" fill="#009a2a"/>
<circle cx="473" cy="296" r="1.2" fill="#009a2a"/>
<circle cx="476.7" cy="323.6" r="1.2" fill="#009a2a"/>
<circle cx="479.9" cy="333.5" r="1.2" fill="#009a2a"/>
<circle cx="483.4" cy="326.6" r="1.2" fill="#009a2a"/>
<circle cx="486.6" cy="338.5" r="1.2" fill="#009a2a"/>
<circle cx="490" cy="342.6" r="1.2" fill="#009a2a"/>
<circle cx="493.3" cy="327" r="1.2" fill="#009a2a"/>
<circle cx="496.8" cy="338.5" r="1.2" fill="#009a2a"/>
<circle cx="500.2" cy="344.3" r="1.2" fill="#009a2a"/>
<circle cx="503.7" cy="338.1" r="1.2" fill="#009a2a"/>
<circle cx="507.1" cy="345.3" r="1.2" fill="#009a2a"/>
<circle cx="510.3" cy="340.6" r="1.2" fill="#009a2a"/>
<circle cx="513.8" cy="344.7" r="1.2" fill="#009a2a"/>
<circle cx="517" cy="337.1" r="1.2" fill="#009a2a"/>
<path d="M377.20,264.80H379.60M378.40,263.60V266.00" stroke="#f24a66" stroke-width="0.78"/>
<path d="M383.70,277.00H386.10M384.90,275.80V278.20" stroke="#f24a66" stroke-width="0.78"/>
<path d="M390.50,297.20H392.90M391.70,296.00V298.40" stroke="#f24a66" stroke-width="0.78"/>
<path d="M397.70,269.70H400.10M398.90,268.50V270.90" stroke="#f24a66" stroke-width="0.78"/>
<path d="M404.60,279.90H407.00M405.80,278.70V281.10" stroke="#f24a66" stroke-width="0.78"/>
<path d="M417.70,283.80H420.10M418.90,282.60V285.00" stroke="#f24a66" stroke-width="0.78"/>
<path d="M431.40,297.30H433.80M432.60,296.10V298.50" stroke="#f24a66" stroke-width="0.78"/>
<path d="M438.30,293.60H440.70M439.50,292.40V294.80" stroke="#f24a66" stroke-width="0.78"/>
<path d="M451.80,306.00H454.20M453.00,304.80V307.20" stroke="#f24a66" stroke-width="0.78"/>
<path d="M458.30,305.20H460.70M459.50,304.00V306.40" stroke="#f24a66" stroke-width="0.78"/>
<path d="M465.30,301.90H467.70M466.50,300.70V303.10" stroke="#f24a66" stroke-width="0.78"/>
<path d="M468.60,298.70H471.00M469.80,297.50V299.90" stroke="#f24a66" stroke-width="0.78"/>
<path d="M471.80,289.80H474.20M473.00,288.60V291.00" stroke="#f24a66" stroke-width="0.78"/>
<path d="M475.30,313.60H477.70M476.50,312.40V314.80" stroke="#f24a66" stroke-width="0.78"/>
<path d="M479.00,314.60H481.40M480.20,313.40V315.80" stroke="#f24a66" stroke-width="0.78"/>
<path d="M482.20,310.20H484.60M483.40,309.00V311.40" stroke="#f24a66" stroke-width="0.78"/>
<path d="M485.60,312.20H488.00M486.80,311.00V313.40" stroke="#f24a66" stroke-width="0.78"/>
<path d="M488.80,319.40H491.20M490.00,318.20V320.60" stroke="#f24a66" stroke-width="0.78"/>
<path d="M492.30,296.40H494.70M493.50,295.20V297.60" stroke="#f24a66" stroke-width="0.78"/>
<path d="M495.30,305.60H497.70M496.50,304.40V306.80" stroke="#f24a66" stroke-width="0.78"/>
<path d="M498.80,308.80H501.20M500.00,307.60V310.00" stroke="#f24a66" stroke-width="0.78"/>
<path d="M502.50,315.70H504.90M503.70,314.50V316.90" stroke="#f24a66" stroke-width="0.78"/>
<path d="M505.70,307.40H508.10M506.90,306.20V308.60" stroke="#f24a66" stroke-width="0.78"/>
<path d="M509.10,317.60H511.50M510.30,316.40V318.80" stroke="#f24a66" stroke-width="0.78"/>
<path d="M512.60,306.30H515.00M513.80,305.10V307.50" stroke="#f24a66" stroke-width="0.78"/>
<path d="M515.80,305.20H518.20M517.00,304.00V306.40" stroke="#f24a66" stroke-width="0.78"/>
</g>
<rect x="378.4" y="257.7" width="138.90" height="91.30" fill="none" stroke="#808080" stroke-width="0.95"/>
<line x1="376.60" y1="265.20" x2="378.40" y2="265.20" stroke="#555" stroke-width="0.8"/>
<text x="365.77" y="267.75" font-size="7.42" textLength="9.03" lengthAdjust="spacingAndGlyphs" fill="#111">10</text>
<line x1="376.60" y1="280.20" x2="378.40" y2="280.20" stroke="#555" stroke-width="0.8"/>
<text x="370.28" y="282.75" font-size="7.42" textLength="4.52" lengthAdjust="spacingAndGlyphs" fill="#111">0</text>
<line x1="376.60" y1="295.20" x2="378.40" y2="295.20" stroke="#555" stroke-width="0.8"/>
<text x="363.20" y="297.75" font-size="7.42" textLength="11.60" lengthAdjust="spacingAndGlyphs" fill="#111">-10</text>
<line x1="376.60" y1="310.20" x2="378.40" y2="310.20" stroke="#555" stroke-width="0.8"/>
<text x="363.20" y="312.75" font-size="7.42" textLength="11.60" lengthAdjust="spacingAndGlyphs" fill="#111">-20</text>
<line x1="376.60" y1="325.20" x2="378.40" y2="325.20" stroke="#555" stroke-width="0.8"/>
<text x="363.20" y="327.75" font-size="7.42" textLength="11.60" lengthAdjust="spacingAndGlyphs" fill="#111">-30</text>
<line x1="376.60" y1="340.20" x2="378.40" y2="340.20" stroke="#555" stroke-width="0.8"/>
<text x="363.20" y="342.75" font-size="7.42" textLength="11.60" lengthAdjust="spacingAndGlyphs" fill="#111">-40</text>
<line x1="395.20" y1="349.00" x2="395.20" y2="350.80" stroke="#555" stroke-width="0.8"/>
<text x="383.45" y="358.80" font-size="7.42" textLength="22.69" lengthAdjust="spacingAndGlyphs" fill="#111">Jun-16</text>
<line x1="412.45" y1="349.00" x2="412.45" y2="350.80" stroke="#555" stroke-width="0.8"/>
<line x1="430.27" y1="349.00" x2="430.27" y2="350.80" stroke="#555" stroke-width="0.8"/>
<text x="417.14" y="358.80" font-size="7.42" textLength="25.46" lengthAdjust="spacingAndGlyphs" fill="#111">Aug-16</text>
<line x1="448.10" y1="349.00" x2="448.10" y2="350.80" stroke="#555" stroke-width="0.8"/>
<line x1="465.35" y1="349.00" x2="465.35" y2="350.80" stroke="#555" stroke-width="0.8"/>
<text x="453.01" y="358.80" font-size="7.42" textLength="23.87" lengthAdjust="spacingAndGlyphs" fill="#111">Oct-16</text>
<line x1="483.17" y1="349.00" x2="483.17" y2="350.80" stroke="#555" stroke-width="0.8"/>
<line x1="500.42" y1="349.00" x2="500.42" y2="350.80" stroke="#555" stroke-width="0.8"/>
<text x="487.36" y="358.80" font-size="7.42" textLength="25.34" lengthAdjust="spacingAndGlyphs" fill="#111">Dec-16</text>
<text x="444.70" y="268.20" font-size="8.36" textLength="9.39" lengthAdjust="spacingAndGlyphs" fill="#111">P4</text>
<g transform="rotate(-90 361.00 301.50)"><text x="322.61" y="301.50" font-size="8.52" textLength="51.61" lengthAdjust="spacingAndGlyphs" fill="#111">Deformation</text><text x="376.84" y="301.50" font-size="8.52" textLength="22.55" lengthAdjust="spacingAndGlyphs" fill="#111">(mm)</text></g>
<clipPath id="cP5"><rect x="31.6" y="373.3" width="138.40" height="90.50"/></clipPath>
<line x1="31.6" y1="388.7" x2="170.0" y2="440.3" stroke="#a0a0a0" stroke-width="0.95" stroke-dasharray="16.4 16.4"/>
<g clip-path="url(#cP5)">
<circle cx="54.9" cy="406.6" r="1.55" fill="#0a67b9"/>
<circle cx="63.8" cy="396.5" r="1.55" fill="#0a67b9"/>
<circle cx="67.3" cy="402.7" r="1.55" fill="#0a67b9"/>
<circle cx="75.2" cy="407" r="1.55" fill="#0a67b9"/>
<circle cx="78.8" cy="412.2" r="1.55" fill="#0a67b9"/>
<circle cx="82.8" cy="409" r="1.55" fill="#0a67b9"/>
<circle cx="87.6" cy="407" r="1.55" fill="#0a67b9"/>
<circle cx="91.3" cy="411.2" r="1.55" fill="#0a67b9"/>
<circle cx="99.4" cy="420.5" r="1.55" fill="#0a67b9"/>
<circle cx="109.8" cy="418.4" r="1.55" fill="#0a67b9"/>
<circle cx="117.1" cy="426.1" r="1.55" fill="#0a67b9"/>
<circle cx="126.9" cy="423.4" r="1.55" fill="#0a67b9"/>
<circle cx="127.9" cy="425.5" r="1.55" fill="#0a67b9"/>
<circle cx="133.7" cy="425.7" r="1.55" fill="#0a67b9"/>
<circle cx="142.7" cy="423.4" r="1.55" fill="#0a67b9"/>
<circle cx="150.2" cy="431.2" r="1.55" fill="#0a67b9"/>
<circle cx="158.3" cy="434.6" r="1.55" fill="#0a67b9"/>
<circle cx="32" cy="385.4" r="0.95" fill="#ff7505"/>
<circle cx="38.5" cy="390" r="0.95" fill="#ff7505"/>
<circle cx="45.1" cy="393.9" r="0.95" fill="#ff7505"/>
<circle cx="52" cy="395.9" r="0.95" fill="#ff7505"/>
<circle cx="58.8" cy="396.5" r="0.95" fill="#ff7505"/>
<circle cx="71.9" cy="401.5" r="0.95" fill="#ff7505"/>
<circle cx="86" cy="405.4" r="0.95" fill="#ff7505"/>
<circle cx="92.6" cy="408.7" r="0.95" fill="#ff7505"/>
<circle cx="99.4" cy="411.6" r="0.95" fill="#ff7505"/>
<circle cx="106.1" cy="414.7" r="0.95" fill="#ff7505"/>
<circle cx="112.5" cy="416.7" r="0.95" fill="#ff7505"/>
<circle cx="119.5" cy="417.8" r="0.95" fill="#ff7505"/>
<circle cx="122.9" cy="418.8" r="0.95" fill="#ff7505"/>
<circle cx="126.3" cy="420.7" r="0.95" fill="#ff7505"/>
<circle cx="129.9" cy="422.1" r="0.95" fill="#ff7505"/>
<circle cx="133.3" cy="424.1" r="0.95" fill="#ff7505"/>
<circle cx="136.6" cy="425.5" r="0.95" fill="#ff7505"/>
<circle cx="140" cy="427.5" r="0.95" fill="#ff7505"/>
<circle cx="143.1" cy="429.2" r="0.95" fill="#ff7505"/>
<circle cx="146.7" cy="429.8" r="0.95" fill="#ff7505"/>
<circle cx="153.2" cy="430.8" r="0.95" fill="#ff7505"/>
<circle cx="156.5" cy="431.5" r="0.95" fill="#ff7505"/>
<circle cx="160.2" cy="431.9" r="0.95" fill="#ff7505"/>
<circle cx="163.7" cy="433.3" r="0.95" fill="#ff7505"/>
<circle cx="166.9" cy="434.9" r="0.95" fill="#ff7505"/>
<circle cx="170" cy="438.6" r="0.95" fill="#ff7505"/>
<circle cx="119.5" cy="433.5" r="1.2" fill="#009a2a"/>
<circle cx="122.9" cy="439.3" r="1.2" fill="#009a2a"/>
<circle cx="126.3" cy="415.4" r="1.2" fill="#009a2a"/>
<circle cx="129.9" cy="441.6" r="1.2" fill="#009a2a"/>
<circle cx="133" cy="449.7" r="1.2" fill="#009a2a"/>
<circle cx="136.6" cy="443.9" r="1.2" fill="#009a2a"/>
<circle cx="139.7" cy="454.8" r="1.2" fill="#009a2a"/>
<circle cx="143.1" cy="455.7" r="1.2" fill="#009a2a"/>
<circle cx="146.7" cy="443" r="1.2" fill="#009a2a"/>
<circle cx="149.8" cy="455.7" r="1.2" fill="#009a2a"/>
<circle cx="153.2" cy="459.8" r="1.2" fill="#009a2a"/>
<circle cx="156.8" cy="452.4" r="1.2" fill="#009a2a"/>
<circle cx="160.2" cy="458.8" r="1.2" fill="#009a2a"/>
<circle cx="163.7" cy="453.3" r="1.2" fill="#009a2a"/>
<circle cx="166.9" cy="455.1" r="1.2" fill="#009a2a"/>
<circle cx="170" cy="448.6" r="1.2" fill="#009a2a"/>
<path d="M30.80,376.90H33.20M32.00,375.70V378.10" stroke="#f24a66" stroke-width="0.78"/>
<path d="M37.30,391.90H39.70M38.50,390.70V393.10" stroke="#f24a66" stroke-width="0.78"/>
<path d="M43.90,410.90H46.30M45.10,409.70V412.10" stroke="#f24a66" stroke-width="0.78"/>
<path d="M50.80,385.00H53.20M52.00,383.80V386.20" stroke="#f24a66" stroke-width="0.78"/>
<path d="M57.60,396.50H60.00M58.80,395.30V397.70" stroke="#f24a66" stroke-width="0.78"/>
<path d="M70.70,401.50H73.10M71.90,400.30V402.70" stroke="#f24a66" stroke-width="0.78"/>
<path d="M84.80,415.50H87.20M86.00,414.30V416.70" stroke="#f24a66" stroke-width="0.78"/>
<path d="M91.40,408.70H93.80M92.60,407.50V409.90" stroke="#f24a66" stroke-width="0.78"/>
<path d="M98.10,414.10H100.50M99.30,412.90V415.30" stroke="#f24a66" stroke-width="0.78"/>
<path d="M104.60,421.40H107.00M105.80,420.20V422.60" stroke="#f24a66" stroke-width="0.78"/>
<path d="M111.30,424.40H113.70M112.50,423.20V425.60" stroke="#f24a66" stroke-width="0.78"/>
<path d="M118.30,420.10H120.70M119.50,418.90V421.30" stroke="#f24a66" stroke-width="0.78"/>
<path d="M121.70,416.70H124.10M122.90,415.50V417.90" stroke="#f24a66" stroke-width="0.78"/>
<path d="M125.10,406.70H127.50M126.30,405.50V407.90" stroke="#f24a66" stroke-width="0.78"/>
<path d="M128.70,426.80H131.10M129.90,425.60V428.00" stroke="#f24a66" stroke-width="0.78"/>
<path d="M132.10,428.80H134.50M133.30,427.60V430.00" stroke="#f24a66" stroke-width="0.78"/>
<path d="M135.10,421.70H137.50M136.30,420.50V422.90" stroke="#f24a66" stroke-width="0.78"/>
<path d="M138.80,425.20H141.20M140.00,424.00V426.40" stroke="#f24a66" stroke-width="0.78"/>
<path d="M141.90,430.80H144.30M143.10,429.60V432.00" stroke="#f24a66" stroke-width="0.78"/>
<path d="M145.20,411.40H147.60M146.40,410.20V412.60" stroke="#f24a66" stroke-width="0.78"/>
<path d="M148.60,421.10H151.00M149.80,419.90V422.30" stroke="#f24a66" stroke-width="0.78"/>
<path d="M152.00,423.80H154.40M153.20,422.60V425.00" stroke="#f24a66" stroke-width="0.78"/>
<path d="M155.30,429.50H157.70M156.50,428.30V430.70" stroke="#f24a66" stroke-width="0.78"/>
<path d="M159.00,421.70H161.40M160.20,420.50V422.90" stroke="#f24a66" stroke-width="0.78"/>
<path d="M162.50,428.40H164.90M163.70,427.20V429.60" stroke="#f24a66" stroke-width="0.78"/>
<path d="M165.70,419.00H168.10M166.90,417.80V420.20" stroke="#f24a66" stroke-width="0.78"/>
</g>
<rect x="31.6" y="373.3" width="138.40" height="90.50" fill="none" stroke="#808080" stroke-width="0.95"/>
<line x1="29.80" y1="383.65" x2="31.60" y2="383.65" stroke="#555" stroke-width="0.8"/>
<text x="18.97" y="386.20" font-size="7.42" textLength="9.03" lengthAdjust="spacingAndGlyphs" fill="#111">10</text>
<line x1="29.80" y1="396.60" x2="31.60" y2="396.60" stroke="#555" stroke-width="0.8"/>
<text x="23.48" y="399.15" font-size="7.42" textLength="4.52" lengthAdjust="spacingAndGlyphs" fill="#111">0</text>
<line x1="29.80" y1="409.55" x2="31.60" y2="409.55" stroke="#555" stroke-width="0.8"/>
<text x="16.40" y="412.10" font-size="7.42" textLength="11.60" lengthAdjust="spacingAndGlyphs" fill="#111">-10</text>
<line x1="29.80" y1="422.50" x2="31.60" y2="422.50" stroke="#555" stroke-width="0.8"/>
<text x="16.40" y="425.05" font-size="7.42" textLength="11.60" lengthAdjust="spacingAndGlyphs" fill="#111">-20</text>
<line x1="29.80" y1="435.45" x2="31.60" y2="435.45" stroke="#555" stroke-width="0.8"/>
<text x="16.40" y="438.00" font-size="7.42" textLength="11.60" lengthAdjust="spacingAndGlyphs" fill="#111">-30</text>
<line x1="29.80" y1="448.40" x2="31.60" y2="448.40" stroke="#555" stroke-width="0.8"/>
<text x="16.40" y="450.95" font-size="7.42" textLength="11.60" lengthAdjust="spacingAndGlyphs" fill="#111">-40</text>
<line x1="29.80" y1="461.35" x2="31.60" y2="461.35" stroke="#555" stroke-width="0.8"/>
<text x="16.40" y="463.90" font-size="7.42" textLength="11.60" lengthAdjust="spacingAndGlyphs" fill="#111">-50</text>
<line x1="47.60" y1="463.80" x2="47.60" y2="465.60" stroke="#555" stroke-width="0.8"/>
<text x="35.85" y="473.80" font-size="7.42" textLength="22.69" lengthAdjust="spacingAndGlyphs" fill="#111">Jun-16</text>
<line x1="64.82" y1="463.80" x2="64.82" y2="465.60" stroke="#555" stroke-width="0.8"/>
<line x1="82.61" y1="463.80" x2="82.61" y2="465.60" stroke="#555" stroke-width="0.8"/>
<text x="69.48" y="473.80" font-size="7.42" textLength="25.46" lengthAdjust="spacingAndGlyphs" fill="#111">Aug-16</text>
<line x1="100.41" y1="463.80" x2="100.41" y2="465.60" stroke="#555" stroke-width="0.8"/>
<line x1="117.63" y1="463.80" x2="117.63" y2="465.60" stroke="#555" stroke-width="0.8"/>
<text x="105.29" y="473.80" font-size="7.42" textLength="23.87" lengthAdjust="spacingAndGlyphs" fill="#111">Oct-16</text>
<line x1="135.42" y1="463.80" x2="135.42" y2="465.60" stroke="#555" stroke-width="0.8"/>
<line x1="152.64" y1="463.80" x2="152.64" y2="465.60" stroke="#555" stroke-width="0.8"/>
<text x="139.57" y="473.80" font-size="7.42" textLength="25.34" lengthAdjust="spacingAndGlyphs" fill="#111">Dec-16</text>
<text x="97.90" y="382.50" font-size="8.36" textLength="9.39" lengthAdjust="spacingAndGlyphs" fill="#111">P5</text>
<g transform="rotate(-90 15.30 416.40)"><text x="-23.09" y="416.40" font-size="8.52" textLength="51.61" lengthAdjust="spacingAndGlyphs" fill="#111">Deformation</text><text x="31.14" y="416.40" font-size="8.52" textLength="22.55" lengthAdjust="spacingAndGlyphs" fill="#111">(mm)</text></g>
<clipPath id="cP6"><rect x="202.4" y="373.3" width="138.40" height="90.80"/></clipPath>
<line x1="202.4" y1="394.0" x2="340.8" y2="433.4" stroke="#a0a0a0" stroke-width="0.95" stroke-dasharray="16.4 16.4"/>
<g clip-path="url(#cP6)">
<circle cx="225.5" cy="408.3" r="1.55" fill="#0a67b9"/>
<circle cx="234.4" cy="395.2" r="1.55" fill="#0a67b9"/>
<circle cx="238" cy="406" r="1.55" fill="#0a67b9"/>
<circle cx="245.6" cy="408.3" r="1.55" fill="#0a67b9"/>
<circle cx="249.5" cy="413.5" r="1.55" fill="#0a67b9"/>
<circle cx="253.4" cy="407.4" r="1.55" fill="#0a67b9"/>
<circle cx="258.3" cy="405" r="1.55" fill="#0a67b9"/>
<circle cx="262.2" cy="409.2" r="1.55" fill="#0a67b9"/>
<circle cx="270.1" cy="414.7" r="1.55" fill="#0a67b9"/>
<circle cx="280.7" cy="416.4" r="1.55" fill="#0a67b9"/>
<circle cx="288" cy="430.2" r="1.55" fill="#0a67b9"/>
<circle cx="297.3" cy="425.4" r="1.55" fill="#0a67b9"/>
<circle cx="298.7" cy="425.4" r="1.55" fill="#0a67b9"/>
<circle cx="304.3" cy="425.4" r="1.55" fill="#0a67b9"/>
<circle cx="313.3" cy="418.6" r="1.55" fill="#0a67b9"/>
<circle cx="320.9" cy="428.9" r="1.55" fill="#0a67b9"/>
<circle cx="329.2" cy="430.9" r="1.55" fill="#0a67b9"/>
<circle cx="202.4" cy="388.7" r="0.95" fill="#ff7505"/>
<circle cx="208.9" cy="390.6" r="0.95" fill="#ff7505"/>
<circle cx="216" cy="394.8" r="0.95" fill="#ff7505"/>
<circle cx="222.9" cy="395.6" r="0.95" fill="#ff7505"/>
<circle cx="229.5" cy="395.2" r="0.95" fill="#ff7505"/>
<circle cx="242.9" cy="396.8" r="0.95" fill="#ff7505"/>
<circle cx="256.6" cy="400.8" r="0.95" fill="#ff7505"/>
<circle cx="263.2" cy="403.1" r="0.95" fill="#ff7505"/>
<circle cx="270" cy="406" r="0.95" fill="#ff7505"/>
<circle cx="277" cy="407.2" r="0.95" fill="#ff7505"/>
<circle cx="283.5" cy="406.2" r="0.95" fill="#ff7505"/>
<circle cx="290.4" cy="405.1" r="0.95" fill="#ff7505"/>
<circle cx="293.8" cy="404.9" r="0.95" fill="#ff7505"/>
<circle cx="297" cy="406.2" r="0.95" fill="#ff7505"/>
<circle cx="300.5" cy="407.2" r="0.95" fill="#ff7505"/>
<circle cx="303.9" cy="408.6" r="0.95" fill="#ff7505"/>
<circle cx="307.4" cy="410.4" r="0.95" fill="#ff7505"/>
<circle cx="310.8" cy="411.8" r="0.95" fill="#ff7505"/>
<circle cx="314" cy="412.7" r="0.95" fill="#ff7505"/>
<circle cx="317.5" cy="414.1" r="0.95" fill="#ff7505"/>
<circle cx="320.8" cy="414.5" r="0.95" fill="#ff7505"/>
<circle cx="324.2" cy="414.9" r="0.95" fill="#ff7505"/>
<circle cx="327.7" cy="415.5" r="0.95" fill="#ff7505"/>
<circle cx="331.1" cy="415.9" r="0.95" fill="#ff7505"/>
<circle cx="334.3" cy="415.9" r="0.95" fill="#ff7505"/>
<circle cx="337.8" cy="415.9" r="0.95" fill="#ff7505"/>
<circle cx="341" cy="415.9" r="0.95" fill="#ff7505"/>
<circle cx="290.4" cy="439.2" r="1.2" fill="#009a2a"/>
<circle cx="293.8" cy="441.7" r="1.2" fill="#009a2a"/>
<circle cx="297" cy="415.9" r="1.2" fill="#009a2a"/>
<circle cx="300.5" cy="441.4" r="1.2" fill="#009a2a"/>
<circle cx="303.7" cy="448.3" r="1.2" fill="#009a2a"/>
<circle cx="307.1" cy="441.7" r="1.2" fill="#009a2a"/>
<circle cx="310.6" cy="452.1" r="1.2" fill="#009a2a"/>
<circle cx="314" cy="453.5" r="1.2" fill="#009a2a"/>
<circle cx="317.1" cy="445.6" r="1.2" fill="#009a2a"/>
<circle cx="320.5" cy="453.2" r="1.2" fill="#009a2a"/>
<circle cx="324" cy="460.1" r="1.2" fill="#009a2a"/>
<circle cx="327.7" cy="452.8" r="1.2" fill="#009a2a"/>
<circle cx="331.1" cy="458" r="1.2" fill="#009a2a"/>
<circle cx="334.3" cy="454.8" r="1.2" fill="#009a2a"/>
<circle cx="337.5" cy="457.6" r="1.2" fill="#009a2a"/>
<circle cx="340.8" cy="453" r="1.2" fill="#009a2a"/>
<path d="M201.20,376.90H203.60M202.40,375.70V378.10" stroke="#f24a66" stroke-width="0.78"/>
<path d="M207.70,391.90H210.10M208.90,390.70V393.10" stroke="#f24a66" stroke-width="0.78"/>
<path d="M214.80,409.60H217.20M216.00,408.40V410.80" stroke="#f24a66" stroke-width="0.78"/>
<path d="M221.70,386.40H224.10M222.90,385.20V387.60" stroke="#f24a66" stroke-width="0.78"/>
<path d="M228.30,395.20H230.70M229.50,394.00V396.40" stroke="#f24a66" stroke-width="0.78"/>
<path d="M241.70,401.50H244.10M242.90,400.30V402.70" stroke="#f24a66" stroke-width="0.78"/>
<path d="M255.40,414.20H257.80M256.60,413.00V415.40" stroke="#f24a66" stroke-width="0.78"/>
<path d="M262.00,408.30H264.40M263.20,407.10V409.50" stroke="#f24a66" stroke-width="0.78"/>
<path d="M268.80,417.80H271.20M270.00,416.60V419.00" stroke="#f24a66" stroke-width="0.78"/>
<path d="M275.80,417.80H278.20M277.00,416.60V419.00" stroke="#f24a66" stroke-width="0.78"/>
<path d="M282.30,420.20H284.70M283.50,419.00V421.40" stroke="#f24a66" stroke-width="0.78"/>
<path d="M289.20,419.30H291.60M290.40,418.10V420.50" stroke="#f24a66" stroke-width="0.78"/>
<path d="M292.40,413.00H294.80M293.60,411.80V414.20" stroke="#f24a66" stroke-width="0.78"/>
<path d="M295.80,403.00H298.20M297.00,401.80V404.20" stroke="#f24a66" stroke-width="0.78"/>
<path d="M299.50,423.70H301.90M300.70,422.50V424.90" stroke="#f24a66" stroke-width="0.78"/>
<path d="M303.00,423.70H305.40M304.20,422.50V424.90" stroke="#f24a66" stroke-width="0.78"/>
<path d="M305.90,416.90H308.30M307.10,415.70V418.10" stroke="#f24a66" stroke-width="0.78"/>
<path d="M309.20,421.00H311.60M310.40,419.80V422.20" stroke="#f24a66" stroke-width="0.78"/>
<path d="M312.80,423.70H315.20M314.00,422.50V424.90" stroke="#f24a66" stroke-width="0.78"/>
<path d="M315.80,411.10H318.20M317.00,409.90V412.30" stroke="#f24a66" stroke-width="0.78"/>
<path d="M319.30,417.30H321.70M320.50,416.10V418.50" stroke="#f24a66" stroke-width="0.78"/>
<path d="M323.00,419.60H325.40M324.20,418.40V420.80" stroke="#f24a66" stroke-width="0.78"/>
<path d="M326.50,422.40H328.90M327.70,421.20V423.60" stroke="#f24a66" stroke-width="0.78"/>
<path d="M329.90,418.60H332.30M331.10,417.40V419.80" stroke="#f24a66" stroke-width="0.78"/>
<path d="M333.10,424.90H335.50M334.30,423.70V426.10" stroke="#f24a66" stroke-width="0.78"/>
<path d="M335.90,417.00H338.30M337.10,415.80V418.20" stroke="#f24a66" stroke-width="0.78"/>
</g>
<rect x="202.4" y="373.3" width="138.40" height="90.80" fill="none" stroke="#808080" stroke-width="0.95"/>
<line x1="200.60" y1="383.22" x2="202.40" y2="383.22" stroke="#555" stroke-width="0.8"/>
<text x="189.77" y="385.77" font-size="7.42" textLength="9.03" lengthAdjust="spacingAndGlyphs" fill="#111">10</text>
<line x1="200.60" y1="395.70" x2="202.40" y2="395.70" stroke="#555" stroke-width="0.8"/>
<text x="194.28" y="398.25" font-size="7.42" textLength="4.52" lengthAdjust="spacingAndGlyphs" fill="#111">0</text>
<line x1="200.60" y1="408.18" x2="202.40" y2="408.18" stroke="#555" stroke-width="0.8"/>
<text x="187.20" y="410.73" font-size="7.42" textLength="11.60" lengthAdjust="spacingAndGlyphs" fill="#111">-10</text>
<line x1="200.60" y1="420.66" x2="202.40" y2="420.66" stroke="#555" stroke-width="0.8"/>
<text x="187.20" y="423.21" font-size="7.42" textLength="11.60" lengthAdjust="spacingAndGlyphs" fill="#111">-20</text>
<line x1="200.60" y1="433.14" x2="202.40" y2="433.14" stroke="#555" stroke-width="0.8"/>
<text x="187.20" y="435.69" font-size="7.42" textLength="11.60" lengthAdjust="spacingAndGlyphs" fill="#111">-30</text>
<line x1="200.60" y1="445.62" x2="202.40" y2="445.62" stroke="#555" stroke-width="0.8"/>
<text x="187.20" y="448.17" font-size="7.42" textLength="11.60" lengthAdjust="spacingAndGlyphs" fill="#111">-40</text>
<line x1="200.60" y1="458.10" x2="202.40" y2="458.10" stroke="#555" stroke-width="0.8"/>
<text x="187.20" y="460.65" font-size="7.42" textLength="11.60" lengthAdjust="spacingAndGlyphs" fill="#111">-50</text>
<line x1="218.30" y1="464.10" x2="218.30" y2="465.90" stroke="#555" stroke-width="0.8"/>
<text x="206.55" y="475.40" font-size="7.42" textLength="22.69" lengthAdjust="spacingAndGlyphs" fill="#111">Jun-16</text>
<line x1="235.64" y1="464.10" x2="235.64" y2="465.90" stroke="#555" stroke-width="0.8"/>
<line x1="253.56" y1="464.10" x2="253.56" y2="465.90" stroke="#555" stroke-width="0.8"/>
<text x="240.43" y="475.40" font-size="7.42" textLength="25.46" lengthAdjust="spacingAndGlyphs" fill="#111">Aug-16</text>
<line x1="271.48" y1="464.10" x2="271.48" y2="465.90" stroke="#555" stroke-width="0.8"/>
<line x1="288.82" y1="464.10" x2="288.82" y2="465.90" stroke="#555" stroke-width="0.8"/>
<text x="276.48" y="475.40" font-size="7.42" textLength="23.87" lengthAdjust="spacingAndGlyphs" fill="#111">Oct-16</text>
<line x1="306.73" y1="464.10" x2="306.73" y2="465.90" stroke="#555" stroke-width="0.8"/>
<line x1="324.07" y1="464.10" x2="324.07" y2="465.90" stroke="#555" stroke-width="0.8"/>
<text x="311.01" y="475.40" font-size="7.42" textLength="25.34" lengthAdjust="spacingAndGlyphs" fill="#111">Dec-16</text>
<text x="265.70" y="382.70" font-size="8.36" textLength="9.39" lengthAdjust="spacingAndGlyphs" fill="#111">P6</text>
<g transform="rotate(-90 186.00 418.90)"><text x="147.61" y="418.90" font-size="8.52" textLength="51.61" lengthAdjust="spacingAndGlyphs" fill="#111">Deformation</text><text x="201.84" y="418.90" font-size="8.52" textLength="22.55" lengthAdjust="spacingAndGlyphs" fill="#111">(mm)</text></g>
<clipPath id="cP7"><rect x="373.8" y="372.4" width="138.80" height="91.20"/></clipPath>
<line x1="373.8" y1="408.3" x2="512.6" y2="432.0" stroke="#a0a0a0" stroke-width="0.95" stroke-dasharray="16.4 16.4"/>
<g clip-path="url(#cP7)">
<circle cx="397.2" cy="419.5" r="1.55" fill="#0a67b9"/>
<circle cx="406" cy="400.1" r="1.55" fill="#0a67b9"/>
<circle cx="409.3" cy="416.1" r="1.55" fill="#0a67b9"/>
<circle cx="417.2" cy="419.5" r="1.55" fill="#0a67b9"/>
<circle cx="421.1" cy="424.7" r="1.55" fill="#0a67b9"/>
<circle cx="425" cy="417.8" r="1.55" fill="#0a67b9"/>
<circle cx="429.6" cy="415" r="1.55" fill="#0a67b9"/>
<circle cx="433.5" cy="419.3" r="1.55" fill="#0a67b9"/>
<circle cx="441.4" cy="425.7" r="1.55" fill="#0a67b9"/>
<circle cx="452.2" cy="421.4" r="1.55" fill="#0a67b9"/>
<circle cx="459.3" cy="432" r="1.55" fill="#0a67b9"/>
<circle cx="469" cy="423.7" r="1.55" fill="#0a67b9"/>
<circle cx="470.1" cy="423.7" r="1.55" fill="#0a67b9"/>
<circle cx="475.9" cy="423.7" r="1.55" fill="#0a67b9"/>
<circle cx="484.9" cy="414.4" r="1.55" fill="#0a67b9"/>
<circle cx="492.5" cy="428.3" r="1.55" fill="#0a67b9"/>
<circle cx="500.8" cy="428.6" r="1.55" fill="#0a67b9"/>
<circle cx="374" cy="376.5" r="0.95" fill="#ff7505"/>
<circle cx="380.5" cy="384.7" r="0.95" fill="#ff7505"/>
<circle cx="387.4" cy="392.3" r="0.95" fill="#ff7505"/>
<circle cx="394.3" cy="397.2" r="0.95" fill="#ff7505"/>
<circle cx="401.1" cy="400.1" r="0.95" fill="#ff7505"/>
<circle cx="414.2" cy="405.3" r="0.95" fill="#ff7505"/>
<circle cx="428" cy="411.9" r="0.95" fill="#ff7505"/>
<circle cx="434.8" cy="418.3" r="0.95" fill="#ff7505"/>
<circle cx="441.4" cy="424.7" r="0.95" fill="#ff7505"/>
<circle cx="448" cy="427.9" r="0.95" fill="#ff7505"/>
<circle cx="454.9" cy="426.9" r="0.95" fill="#ff7505"/>
<circle cx="461.8" cy="424.7" r="0.95" fill="#ff7505"/>
<circle cx="465.3" cy="424.4" r="0.95" fill="#ff7505"/>
<circle cx="468.6" cy="424.2" r="0.95" fill="#ff7505"/>
<circle cx="472.1" cy="425.5" r="0.95" fill="#ff7505"/>
<circle cx="475.6" cy="426.5" r="0.95" fill="#ff7505"/>
<circle cx="479" cy="428.3" r="0.95" fill="#ff7505"/>
<circle cx="482.1" cy="429.3" r="0.95" fill="#ff7505"/>
<circle cx="485.6" cy="430.7" r="0.95" fill="#ff7505"/>
<circle cx="489.1" cy="431.6" r="0.95" fill="#ff7505"/>
<circle cx="492.5" cy="432" r="0.95" fill="#ff7505"/>
<circle cx="496" cy="433" r="0.95" fill="#ff7505"/>
<circle cx="499.1" cy="433.4" r="0.95" fill="#ff7505"/>
<circle cx="502.5" cy="434.1" r="0.95" fill="#ff7505"/>
<circle cx="506" cy="434.8" r="0.95" fill="#ff7505"/>
<circle cx="509.1" cy="436.6" r="0.95" fill="#ff7505"/>
<circle cx="512.5" cy="438.5" r="0.95" fill="#ff7505"/>
<circle cx="461.8" cy="440.3" r="1.2" fill="#009a2a"/>
<circle cx="465.3" cy="445.2" r="1.2" fill="#009a2a"/>
<circle cx="468.6" cy="416.8" r="1.2" fill="#009a2a"/>
<circle cx="472.1" cy="445.4" r="1.2" fill="#009a2a"/>
<circle cx="475.2" cy="453" r="1.2" fill="#009a2a"/>
<circle cx="478.7" cy="442.4" r="1.2" fill="#009a2a"/>
<circle cx="482.1" cy="454.6" r="1.2" fill="#009a2a"/>
<circle cx="485.6" cy="456.9" r="1.2" fill="#009a2a"/>
<circle cx="488.8" cy="444.5" r="1.2" fill="#009a2a"/>
<circle cx="492.2" cy="457.9" r="1.2" fill="#009a2a"/>
<circle cx="496" cy="460" r="1.2" fill="#009a2a"/>
<circle cx="499.1" cy="452.5" r="1.2" fill="#009a2a"/>
<circle cx="502.5" cy="456.2" r="1.2" fill="#009a2a"/>
<circle cx="506" cy="452.1" r="1.2" fill="#009a2a"/>
<circle cx="509.1" cy="457.9" r="1.2" fill="#009a2a"/>
<circle cx="512.5" cy="447.2" r="1.2" fill="#009a2a"/>
<path d="M372.80,376.50H375.20M374.00,375.30V377.70" stroke="#f24a66" stroke-width="0.78"/>
<path d="M379.30,399.10H381.70M380.50,397.90V400.30" stroke="#f24a66" stroke-width="0.78"/>
<path d="M386.20,421.80H388.60M387.40,420.60V423.00" stroke="#f24a66" stroke-width="0.78"/>
<path d="M393.10,391.90H395.50M394.30,390.70V393.10" stroke="#f24a66" stroke-width="0.78"/>
<path d="M399.90,400.10H402.30M401.10,398.90V401.30" stroke="#f24a66" stroke-width="0.78"/>
<path d="M413.00,402.10H415.40M414.20,400.90V403.30" stroke="#f24a66" stroke-width="0.78"/>
<path d="M426.80,413.20H429.20M428.00,412.00V414.40" stroke="#f24a66" stroke-width="0.78"/>
<path d="M433.60,406.70H436.00M434.80,405.50V407.90" stroke="#f24a66" stroke-width="0.78"/>
<path d="M440.30,417.80H442.70M441.50,416.60V419.00" stroke="#f24a66" stroke-width="0.78"/>
<path d="M447.00,419.30H449.40M448.20,418.10V420.50" stroke="#f24a66" stroke-width="0.78"/>
<path d="M453.70,415.70H456.10M454.90,414.50V416.90" stroke="#f24a66" stroke-width="0.78"/>
<path d="M460.60,409.40H463.00M461.80,408.20V410.60" stroke="#f24a66" stroke-width="0.78"/>
<path d="M464.10,406.60H466.50M465.30,405.40V407.80" stroke="#f24a66" stroke-width="0.78"/>
<path d="M467.40,396.90H469.80M468.60,395.70V398.10" stroke="#f24a66" stroke-width="0.78"/>
<path d="M470.90,421.70H473.30M472.10,420.50V422.90" stroke="#f24a66" stroke-width="0.78"/>
<path d="M474.00,419.40H476.40M475.20,418.20V420.60" stroke="#f24a66" stroke-width="0.78"/>
<path d="M477.50,411.90H479.90M478.70,410.70V413.10" stroke="#f24a66" stroke-width="0.78"/>
<path d="M480.70,413.90H483.10M481.90,412.70V415.10" stroke="#f24a66" stroke-width="0.78"/>
<path d="M484.40,419.40H486.80M485.60,418.20V420.60" stroke="#f24a66" stroke-width="0.78"/>
<path d="M487.40,404.30H489.80M488.60,403.10V405.50" stroke="#f24a66" stroke-width="0.78"/>
<path d="M490.90,406.20H493.30M492.10,405.00V407.40" stroke="#f24a66" stroke-width="0.78"/>
<path d="M494.30,416.30H496.70M495.50,415.10V417.50" stroke="#f24a66" stroke-width="0.78"/>
<path d="M497.90,413.90H500.30M499.10,412.70V415.10" stroke="#f24a66" stroke-width="0.78"/>
<path d="M501.30,407.00H503.70M502.50,405.80V408.20" stroke="#f24a66" stroke-width="0.78"/>
<path d="M504.80,417.80H507.20M506.00,416.60V419.00" stroke="#f24a66" stroke-width="0.78"/>
<path d="M507.90,408.70H510.30M509.10,407.50V409.90" stroke="#f24a66" stroke-width="0.78"/>
<path d="M510.70,402.90H513.10M511.90,401.70V404.10" stroke="#f24a66" stroke-width="0.78"/>
</g>
<rect x="373.8" y="372.4" width="138.80" height="91.20" fill="none" stroke="#808080" stroke-width="0.95"/>
<line x1="372.00" y1="385.90" x2="373.80" y2="385.90" stroke="#555" stroke-width="0.8"/>
<text x="361.17" y="388.45" font-size="7.42" textLength="9.03" lengthAdjust="spacingAndGlyphs" fill="#111">10</text>
<line x1="372.00" y1="400.20" x2="373.80" y2="400.20" stroke="#555" stroke-width="0.8"/>
<text x="365.68" y="402.75" font-size="7.42" textLength="4.52" lengthAdjust="spacingAndGlyphs" fill="#111">0</text>
<line x1="372.00" y1="414.50" x2="373.80" y2="414.50" stroke="#555" stroke-width="0.8"/>
<text x="358.60" y="417.05" font-size="7.42" textLength="11.60" lengthAdjust="spacingAndGlyphs" fill="#111">-10</text>
<line x1="372.00" y1="428.80" x2="373.80" y2="428.80" stroke="#555" stroke-width="0.8"/>
<text x="358.60" y="431.35" font-size="7.42" textLength="11.60" lengthAdjust="spacingAndGlyphs" fill="#111">-20</text>
<line x1="372.00" y1="443.10" x2="373.80" y2="443.10" stroke="#555" stroke-width="0.8"/>
<text x="358.60" y="445.65" font-size="7.42" textLength="11.60" lengthAdjust="spacingAndGlyphs" fill="#111">-30</text>
<line x1="372.00" y1="457.40" x2="373.80" y2="457.40" stroke="#555" stroke-width="0.8"/>
<text x="358.60" y="459.95" font-size="7.42" textLength="11.60" lengthAdjust="spacingAndGlyphs" fill="#111">-40</text>
<line x1="391.00" y1="463.60" x2="391.00" y2="465.40" stroke="#555" stroke-width="0.8"/>
<text x="379.25" y="474.00" font-size="7.42" textLength="22.69" lengthAdjust="spacingAndGlyphs" fill="#111">Jun-16</text>
<line x1="408.25" y1="463.60" x2="408.25" y2="465.40" stroke="#555" stroke-width="0.8"/>
<line x1="426.07" y1="463.60" x2="426.07" y2="465.40" stroke="#555" stroke-width="0.8"/>
<text x="412.94" y="474.00" font-size="7.42" textLength="25.46" lengthAdjust="spacingAndGlyphs" fill="#111">Aug-16</text>
<line x1="443.90" y1="463.60" x2="443.90" y2="465.40" stroke="#555" stroke-width="0.8"/>
<line x1="461.15" y1="463.60" x2="461.15" y2="465.40" stroke="#555" stroke-width="0.8"/>
<text x="448.81" y="474.00" font-size="7.42" textLength="23.87" lengthAdjust="spacingAndGlyphs" fill="#111">Oct-16</text>
<line x1="478.98" y1="463.60" x2="478.98" y2="465.40" stroke="#555" stroke-width="0.8"/>
<line x1="496.23" y1="463.60" x2="496.23" y2="465.40" stroke="#555" stroke-width="0.8"/>
<text x="483.16" y="474.00" font-size="7.42" textLength="25.34" lengthAdjust="spacingAndGlyphs" fill="#111">Dec-16</text>
<text x="439.70" y="382.90" font-size="8.36" textLength="9.39" lengthAdjust="spacingAndGlyphs" fill="#111">P7</text>
<g transform="rotate(-90 358.30 417.90)"><text x="319.91" y="417.90" font-size="8.52" textLength="51.61" lengthAdjust="spacingAndGlyphs" fill="#111">Deformation</text><text x="374.14" y="417.90" font-size="8.52" textLength="22.55" lengthAdjust="spacingAndGlyphs" fill="#111">(mm)</text></g>
</g>
</svg>
</div>
</body></html>
